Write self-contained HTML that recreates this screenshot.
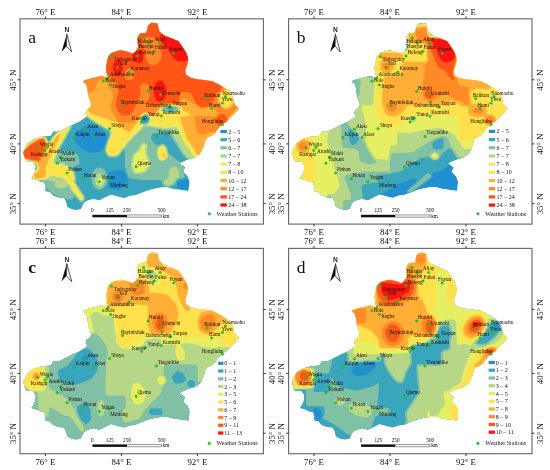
<!DOCTYPE html>
<html lang="en"><head><meta charset="utf-8"><title>Xinjiang interpolation maps</title>
<style>
html,body{margin:0;padding:0;background:#fff;}
body{width:550px;height:470px;overflow:hidden;}
svg{display:block;}
text{font-family:"Liberation Serif","DejaVu Serif",serif;fill:#0d0d0d;}
.ax{font-size:8.8px;}
.pl{font-size:17.5px;fill:#111;}
.nn{font-family:"Liberation Sans","DejaVu Sans",sans-serif;font-size:6.6px;font-weight:bold;fill:#222;}
.sb{font-size:5.2px;fill:#000;}
.lg{font-size:6.05px;fill:#111;}
.st text{font-size:5.1px;fill:#1c0d04;}
</style></head><body>
<svg width="550" height="470" viewBox="0 0 550 470">
<rect width="550" height="470" fill="#fff"/>
<defs>
<clipPath id="clipa"><path d="M107.9,77.8L106.6,72.7L106.0,67.6L106.4,65.5L108.2,56.4L111.8,52.7L120.5,50.2L128.4,51.9L132.8,53.8L135.8,51.2L138.2,47.3L137.3,38.2L140.0,33.6L146.4,32.7L148.2,25.5L151.8,22.7L157.3,23.6L159.1,30.9L162.7,34.5L165.0,36.0L171.0,38.2L178.4,41.2L182.1,46.4L185.9,52.3L188.1,58.3L187.3,64.3L185.1,70.2L185.9,74.7L190.3,77.7L196.3,79.2L203.7,79.9L212.7,81.4L218.6,84.4L224.6,88.1L229.1,91.1L232.0,95.5L233.5,100.0L234.5,104.2L238.8,108.5L235.2,112.9L231.5,116.5L227.2,120.9L222.4,124.3L219.4,126.9L217.2,129.6L215.0,132.9L211.8,135.6L207.4,137.4L205.2,140.5L204.1,144.9L201.9,150.3L199.8,154.1L194.9,157.4L188.9,159.2L182.3,161.8L179.6,163.6L185.0,167.3L183.2,171.8L187.7,176.4L189.5,181.8L188.6,190.9L181.4,190.0L174.1,189.1L167.7,187.3L161.4,187.3L155.9,188.2L148.6,190.0L141.4,192.7L135.6,195.1L129.8,195.8L124.0,198.0L118.2,196.5L110.9,194.4L105.1,197.3L99.3,200.2L93.5,198.7L88.0,200.2L84.7,201.8L82.5,205.1L80.9,208.9L76.0,210.0L71.6,208.9L67.3,206.7L66.2,201.8L64.0,198.0L58.5,197.5L53.1,195.3L49.8,192.0L45.5,190.9L45.5,186.5L44.0,182.1L41.1,182.1L36.6,179.9L31.4,178.4L32.9,176.2L35.1,171.7L35.8,165.7L32.9,161.3L26.2,161.3L24.7,157.5L23.2,152.3L25.4,147.9L27.7,143.4L34.4,138.9L41.8,136.7L50.7,136.0L53.5,131.5L58.6,131.8L65.9,128.2L73.2,124.5L79.2,121.8L84.3,118.6L87.5,116.1L85.5,113.5L86.8,109.7L90.0,107.8L91.3,104.6L89.4,99.5L88.1,94.4L87.5,88.6L86.2,84.2L83.0,81.6L84.9,80.3L90.7,78.4L97.0,77.1L100.9,75.9Z"/></clipPath>
<clipPath id="clipb"><path d="M376.5,77.8L375.2,72.7L374.6,67.6L375.0,65.5L376.8,56.4L380.4,52.7L389.1,50.2L397.0,51.9L401.4,53.8L404.4,51.2L406.8,47.3L405.9,38.2L408.6,33.6L415.0,32.7L416.8,25.5L420.4,22.7L425.9,23.6L427.7,30.9L431.3,34.5L433.6,36.0L439.6,38.2L447.0,41.2L450.7,46.4L454.5,52.3L456.7,58.3L455.9,64.3L453.7,70.2L454.5,74.7L458.9,77.7L464.9,79.2L472.3,79.9L481.3,81.4L487.2,84.4L493.2,88.1L497.7,91.1L500.6,95.5L502.1,100.0L503.1,104.2L507.4,108.5L503.8,112.9L500.1,116.5L495.8,120.9L491.0,124.3L488.0,126.9L485.8,129.6L483.6,132.9L480.4,135.6L476.0,137.4L473.8,140.5L472.7,144.9L470.5,150.3L468.4,154.1L463.5,157.4L457.5,159.2L450.9,161.8L448.2,163.6L453.6,167.3L451.8,171.8L456.3,176.4L458.1,181.8L457.2,190.9L450.0,190.0L442.7,189.1L436.3,187.3L430.0,187.3L424.5,188.2L417.2,190.0L410.0,192.7L404.2,195.1L398.4,195.8L392.6,198.0L386.8,196.5L379.5,194.4L373.7,197.3L367.9,200.2L362.1,198.7L356.6,200.2L353.3,201.8L351.1,205.1L349.5,208.9L344.6,210.0L340.2,208.9L335.9,206.7L334.8,201.8L332.6,198.0L327.1,197.5L321.7,195.3L318.4,192.0L314.1,190.9L314.1,186.5L312.6,182.1L309.7,182.1L305.2,179.9L300.0,178.4L301.5,176.2L303.7,171.7L304.4,165.7L301.5,161.3L294.8,161.3L293.3,157.5L291.8,152.3L294.0,147.9L296.3,143.4L303.0,138.9L310.4,136.7L319.3,136.0L322.1,131.5L327.2,131.8L334.5,128.2L341.8,124.5L347.8,121.8L352.9,118.6L356.1,116.1L354.1,113.5L355.4,109.7L358.6,107.8L359.9,104.6L358.0,99.5L356.7,94.4L356.1,88.6L354.8,84.2L351.6,81.6L353.5,80.3L359.3,78.4L365.6,77.1L369.5,75.9Z"/></clipPath>
<clipPath id="clipc"><path d="M107.9,307.4L106.6,302.3L106.0,297.2L106.4,295.1L108.2,286.0L111.8,282.3L120.5,279.8L128.4,281.5L132.8,283.4L135.8,280.8L138.2,276.9L137.3,267.8L140.0,263.2L146.4,262.3L148.2,255.1L151.8,252.3L157.3,253.2L159.1,260.5L162.7,264.1L165.0,265.6L171.0,267.8L178.4,270.8L182.1,276.0L185.9,281.9L188.1,287.9L187.3,293.9L185.1,299.8L185.9,304.3L190.3,307.3L196.3,308.8L203.7,309.5L212.7,311.0L218.6,314.0L224.6,317.7L229.1,320.7L232.0,325.1L233.5,329.6L234.5,333.8L238.8,338.1L235.2,342.5L231.5,346.1L227.2,350.5L222.4,353.9L219.4,356.5L217.2,359.2L215.0,362.5L211.8,365.2L207.4,367.0L205.2,370.1L204.1,374.5L201.9,379.9L199.8,383.7L194.9,387.0L188.9,388.8L182.3,391.4L179.6,393.2L185.0,396.9L183.2,401.4L187.7,406.0L189.5,411.4L188.6,420.5L181.4,419.6L174.1,418.7L167.7,416.9L161.4,416.9L155.9,417.8L148.6,419.6L141.4,422.3L135.6,424.7L129.8,425.4L124.0,427.6L118.2,426.1L110.9,424.0L105.1,426.9L99.3,429.8L93.5,428.3L88.0,429.8L84.7,431.4L82.5,434.7L80.9,438.5L76.0,439.6L71.6,438.5L67.3,436.3L66.2,431.4L64.0,427.6L58.5,427.1L53.1,424.9L49.8,421.6L45.5,420.5L45.5,416.1L44.0,411.7L41.1,411.7L36.6,409.5L31.4,408.0L32.9,405.8L35.1,401.3L35.8,395.3L32.9,390.9L26.2,390.9L24.7,387.1L23.2,381.9L25.4,377.5L27.7,373.0L34.4,368.5L41.8,366.3L50.7,365.6L53.5,361.1L58.6,361.4L65.9,357.8L73.2,354.1L79.2,351.4L84.3,348.2L87.5,345.7L85.5,343.1L86.8,339.3L90.0,337.4L91.3,334.2L89.4,329.1L88.1,324.0L87.5,318.2L86.2,313.8L83.0,311.2L84.9,309.9L90.7,308.0L97.0,306.7L100.9,305.5Z"/></clipPath>
<clipPath id="clipd"><path d="M376.5,307.4L375.2,302.3L374.6,297.2L375.0,295.1L376.8,286.0L380.4,282.3L389.1,279.8L397.0,281.5L401.4,283.4L404.4,280.8L406.8,276.9L405.9,267.8L408.6,263.2L415.0,262.3L416.8,255.1L420.4,252.3L425.9,253.2L427.7,260.5L431.3,264.1L433.6,265.6L439.6,267.8L447.0,270.8L450.7,276.0L454.5,281.9L456.7,287.9L455.9,293.9L453.7,299.8L454.5,304.3L458.9,307.3L464.9,308.8L472.3,309.5L481.3,311.0L487.2,314.0L493.2,317.7L497.7,320.7L500.6,325.1L502.1,329.6L503.1,333.8L507.4,338.1L503.8,342.5L500.1,346.1L495.8,350.5L491.0,353.9L488.0,356.5L485.8,359.2L483.6,362.5L480.4,365.2L476.0,367.0L473.8,370.1L472.7,374.5L470.5,379.9L468.4,383.7L463.5,387.0L457.5,388.8L450.9,391.4L448.2,393.2L453.6,396.9L451.8,401.4L456.3,406.0L458.1,411.4L457.2,420.5L450.0,419.6L442.7,418.7L436.3,416.9L430.0,416.9L424.5,417.8L417.2,419.6L410.0,422.3L404.2,424.7L398.4,425.4L392.6,427.6L386.8,426.1L379.5,424.0L373.7,426.9L367.9,429.8L362.1,428.3L356.6,429.8L353.3,431.4L351.1,434.7L349.5,438.5L344.6,439.6L340.2,438.5L335.9,436.3L334.8,431.4L332.6,427.6L327.1,427.1L321.7,424.9L318.4,421.6L314.1,420.5L314.1,416.1L312.6,411.7L309.7,411.7L305.2,409.5L300.0,408.0L301.5,405.8L303.7,401.3L304.4,395.3L301.5,390.9L294.8,390.9L293.3,387.1L291.8,381.9L294.0,377.5L296.3,373.0L303.0,368.5L310.4,366.3L319.3,365.6L322.1,361.1L327.2,361.4L334.5,357.8L341.8,354.1L347.8,351.4L352.9,348.2L356.1,345.7L354.1,343.1L355.4,339.3L358.6,337.4L359.9,334.2L358.0,329.1L356.7,324.0L356.1,318.2L354.8,313.8L351.6,311.2L353.5,309.9L359.3,308.0L365.6,306.7L369.5,305.5Z"/></clipPath>
</defs>
<g>
<g clip-path="url(#clipa)">
<path d="M107.9,77.8L106.6,72.7L106.0,67.6L106.4,65.5L108.2,56.4L111.8,52.7L120.5,50.2L128.4,51.9L132.8,53.8L135.8,51.2L138.2,47.3L137.3,38.2L140.0,33.6L146.4,32.7L148.2,25.5L151.8,22.7L157.3,23.6L159.1,30.9L162.7,34.5L165.0,36.0L171.0,38.2L178.4,41.2L182.1,46.4L185.9,52.3L188.1,58.3L187.3,64.3L185.1,70.2L185.9,74.7L190.3,77.7L196.3,79.2L203.7,79.9L212.7,81.4L218.6,84.4L224.6,88.1L229.1,91.1L232.0,95.5L233.5,100.0L234.5,104.2L238.8,108.5L235.2,112.9L231.5,116.5L227.2,120.9L222.4,124.3L219.4,126.9L217.2,129.6L215.0,132.9L211.8,135.6L207.4,137.4L205.2,140.5L204.1,144.9L201.9,150.3L199.8,154.1L194.9,157.4L188.9,159.2L182.3,161.8L179.6,163.6L185.0,167.3L183.2,171.8L187.7,176.4L189.5,181.8L188.6,190.9L181.4,190.0L174.1,189.1L167.7,187.3L161.4,187.3L155.9,188.2L148.6,190.0L141.4,192.7L135.6,195.1L129.8,195.8L124.0,198.0L118.2,196.5L110.9,194.4L105.1,197.3L99.3,200.2L93.5,198.7L88.0,200.2L84.7,201.8L82.5,205.1L80.9,208.9L76.0,210.0L71.6,208.9L67.3,206.7L66.2,201.8L64.0,198.0L58.5,197.5L53.1,195.3L49.8,192.0L45.5,190.9L45.5,186.5L44.0,182.1L41.1,182.1L36.6,179.9L31.4,178.4L32.9,176.2L35.1,171.7L35.8,165.7L32.9,161.3L26.2,161.3L24.7,157.5L23.2,152.3L25.4,147.9L27.7,143.4L34.4,138.9L41.8,136.7L50.7,136.0L53.5,131.5L58.6,131.8L65.9,128.2L73.2,124.5L79.2,121.8L84.3,118.6L87.5,116.1L85.5,113.5L86.8,109.7L90.0,107.8L91.3,104.6L89.4,99.5L88.1,94.4L87.5,88.6L86.2,84.2L83.0,81.6L84.9,80.3L90.7,78.4L97.0,77.1L100.9,75.9Z" fill="#2090d2"/>
<path d="M190.0,192.0L189.2,192.5L190.0,192.5ZM158.8,22.2L150.5,21.5L147.0,24.2L145.0,31.5L138.5,32.5L136.0,37.0L136.8,46.5L134.8,49.8L132.5,51.8L130.2,50.8L122.5,49.0L119.0,49.0L110.5,51.5L106.8,56.0L104.8,65.8L105.2,75.5L103.0,74.8L99.5,74.8L85.0,78.5L81.8,80.2L81.8,83.0L85.2,86.2L86.2,89.8L86.8,96.2L89.5,104.2L88.8,106.5L85.2,109.0L84.2,112.0L84.2,115.0L84.8,115.8L78.5,120.2L58.0,130.2L52.2,130.2L49.5,134.8L40.2,135.5L32.8,138.0L26.2,142.5L22.0,151.0L22.2,155.0L25.0,162.8L31.8,162.8L34.2,166.8L33.8,170.8L30.2,177.2L30.2,180.0L35.5,181.5L39.5,183.5L42.5,183.5L44.2,187.8L44.2,192.5L48.5,193.5L51.8,196.8L57.0,199.0L62.8,199.5L65.0,203.2L66.0,208.2L70.2,210.5L74.2,211.5L78.0,211.5L82.5,210.5L83.5,207.5L86.0,203.5L89.2,201.8L92.8,200.8L97.8,201.8L100.8,201.8L111.2,196.5L122.5,199.5L125.8,199.5L131.0,197.2L137.2,196.5L149.8,191.5L162.5,188.8L166.8,188.8L172.5,190.5L178.0,191.2L177.0,189.0L177.5,181.5L179.5,180.2L186.5,178.8L188.5,179.0L189.2,180.2L190.2,189.8L191.0,180.2L189.2,175.2L185.5,171.2L186.5,169.0L186.5,166.0L183.2,163.8L189.5,161.0L196.0,159.2L201.0,155.8L204.0,150.8L206.5,142.5L208.5,139.5L216.0,135.0L219.8,129.8L224.2,125.5L228.5,122.8L237.2,114.0L240.2,110.0L240.2,107.2L236.0,103.0L233.8,94.8L230.2,89.5L221.5,84.0L214.2,80.2L206.0,78.8L197.5,78.0L192.5,76.8L187.5,73.5L187.0,70.2L188.8,66.0L189.5,56.8L187.2,50.5L180.0,40.0L167.0,35.0L162.2,31.5L160.5,29.8ZM123.2,170.2L125.0,172.8L127.5,179.8L127.8,181.8L127.0,183.2L120.0,189.8L118.2,190.0L109.2,188.2L108.0,186.8L108.5,181.2L108.2,173.2L108.8,172.2L111.2,171.2L121.5,170.0ZM75.0,132.5L84.0,127.0L87.5,125.5L98.8,127.8L100.2,128.5L103.8,132.0L107.0,136.2L106.8,138.8L104.5,146.0L102.5,149.2L99.8,151.8L93.0,152.8L88.2,152.5L80.8,148.0L75.0,141.0L74.2,139.0L74.2,134.2ZM145.2,115.8L147.5,117.2L148.0,119.5L146.5,121.8L144.2,122.0L143.0,121.2L142.8,119.5L143.8,117.0Z" fill="#39a6bd" fill-rule="evenodd"/>
<path d="M98.0,167.5L95.2,169.0L93.5,171.0L91.8,175.5L91.5,180.2L92.5,184.2L94.0,186.8L95.8,188.5L97.8,189.5L100.2,189.8L103.2,188.5L105.8,185.5L106.8,181.8L106.8,176.0L105.8,171.5L103.8,169.0L101.0,167.5ZM27.0,143.0L25.0,145.0L22.0,151.0L22.0,154.0L24.8,161.8L28.2,162.8L31.8,162.8L32.2,163.5L34.5,164.0L35.5,165.2L36.0,168.0L33.8,170.2L30.5,176.8L32.5,180.8L36.8,182.2L42.2,181.5L43.2,182.8L44.5,186.2L50.8,192.5L60.8,197.8L65.8,199.0L72.0,199.5L74.5,196.2L79.8,202.0L82.0,202.2L83.0,201.8L85.2,199.0L85.2,197.0L76.0,182.5L75.8,181.0L76.5,179.2L76.2,176.8L74.5,170.8L73.0,168.0L73.8,166.8L78.0,164.8L79.5,163.2L79.5,160.5L78.0,155.0L76.5,154.0L61.0,150.0L60.2,148.8L71.8,127.8L72.2,126.2L72.0,124.8L70.5,124.0L60.8,128.8L56.2,131.8L53.8,134.2L49.2,140.8L48.2,140.2L47.0,137.5L45.5,135.8L42.2,135.2L35.2,137.8ZM150.5,21.5L147.0,24.2L145.0,31.5L138.5,32.5L136.0,37.0L136.8,46.5L134.8,49.8L132.5,51.8L130.2,50.8L122.5,49.0L119.0,49.0L110.5,51.5L107.0,55.2L104.8,65.8L105.2,75.5L103.0,74.8L99.5,74.8L85.0,78.5L81.8,80.2L81.8,83.0L85.2,86.2L86.2,89.8L86.8,96.2L89.5,104.2L88.8,106.5L85.2,109.0L84.2,112.0L84.2,115.0L89.8,120.0L97.0,124.8L108.2,131.0L109.5,132.2L109.2,135.8L106.5,142.5L104.5,150.2L105.8,153.8L108.5,157.2L109.5,157.8L113.2,157.8L117.5,157.0L119.8,155.2L123.8,150.2L124.8,150.8L125.0,166.8L128.2,176.2L129.5,178.0L132.0,178.8L142.5,180.0L160.0,180.0L161.8,181.2L162.2,184.0L163.8,186.0L166.5,187.2L169.0,187.2L174.8,184.8L175.5,183.8L176.0,181.2L177.2,179.8L184.5,177.2L184.8,176.0L183.8,173.8L183.8,171.0L184.5,168.8L184.2,166.8L179.2,161.5L169.5,154.0L168.5,152.2L167.2,147.5L165.8,145.2L163.2,143.8L161.2,143.8L158.0,145.5L156.0,145.0L153.5,142.5L151.0,138.8L151.5,135.0L152.8,133.8L154.8,133.0L157.8,133.0L165.2,134.2L168.8,132.8L182.2,154.5L187.8,160.2L190.8,160.5L196.0,159.2L201.5,155.2L204.0,150.8L206.5,142.5L208.5,139.5L216.0,135.0L218.5,131.2L222.2,127.2L228.5,122.8L237.2,114.0L240.2,110.0L240.2,107.2L236.0,103.0L233.8,94.8L230.8,90.0L225.8,86.5L214.2,80.2L206.0,78.8L197.5,78.0L191.8,76.5L187.8,73.8L187.0,70.2L188.8,66.0L189.5,56.8L187.2,50.5L180.2,40.2L167.0,35.0L164.5,33.5L160.5,29.8L158.8,22.2ZM145.5,114.8L146.5,115.0L148.2,116.8L149.0,118.2L149.0,119.8L147.0,122.8L144.2,123.2L142.2,122.5L141.5,121.0L143.0,116.5L144.5,115.0ZM174.5,108.2L175.5,107.8L176.2,108.5L175.0,108.8ZM166.5,108.8L167.0,107.8L168.5,107.0L171.5,107.0L174.0,108.2L171.2,111.5L168.8,111.0Z" fill="#80c0a5" fill-rule="evenodd"/>
<path d="M99.0,173.0L97.8,173.5L96.0,175.2L95.0,177.8L94.8,181.2L95.5,184.0L97.0,186.0L98.8,187.0L100.8,187.0L102.2,186.2L103.8,184.5L104.8,181.5L104.8,179.0L103.5,175.2L101.8,173.5ZM176.5,167.2L175.0,166.5L173.0,166.5L171.5,167.2L170.0,169.0L168.5,173.2L168.5,178.0L165.0,179.8L164.0,181.0L164.0,183.5L165.5,185.0L168.8,185.5L171.0,184.5L174.5,181.8L175.2,179.8L179.0,177.0L179.5,175.5L179.2,172.0L178.0,169.0ZM162.0,144.8L160.5,145.2L157.8,147.5L156.5,151.2L156.5,154.0L158.2,159.2L160.5,161.2L163.2,161.5L165.5,160.2L167.5,158.0L168.0,154.2L166.0,147.5L164.0,145.2ZM144.5,142.8L142.5,142.8L141.2,143.5L138.0,150.0L133.0,154.5L132.0,156.5L130.8,165.8L133.2,172.5L135.2,174.2L142.5,173.5L145.0,172.5L149.2,168.2L150.8,165.5L150.0,161.0L146.8,153.0L147.5,145.0L146.2,143.5ZM23.8,147.5L22.0,151.0L22.0,154.0L24.0,160.5L30.8,162.5L34.8,163.0L36.0,164.0L36.8,165.8L36.8,169.0L33.0,172.0L31.2,175.8L32.0,178.0L34.2,181.0L37.0,181.2L41.0,180.2L48.5,179.8L51.2,181.0L54.0,181.2L55.0,182.0L54.8,185.2L56.5,187.5L60.0,188.8L64.0,188.2L67.0,186.0L68.2,185.8L73.0,192.8L75.8,195.2L80.0,200.8L82.0,201.0L83.8,199.5L84.2,197.8L83.2,195.5L74.5,182.0L75.2,177.2L73.8,171.8L72.5,169.5L68.2,166.0L63.5,163.2L62.0,162.8L55.8,163.0L54.8,162.0L59.2,147.8L68.5,131.8L70.8,127.0L70.5,125.5L69.0,125.2L64.0,127.2L60.0,130.8L56.5,132.8L52.2,138.0L49.5,142.8L48.2,142.2L45.2,136.8L44.2,136.2L41.8,136.2L37.0,137.8L29.8,142.0ZM58.0,179.5L58.8,178.8L60.5,179.2L60.5,179.8L59.5,180.2ZM150.5,21.5L147.0,24.2L145.0,31.5L138.5,32.5L136.0,37.0L136.8,46.5L134.8,49.8L132.5,51.8L130.2,50.8L122.5,49.0L119.0,49.0L110.5,51.5L107.0,55.2L104.8,65.8L105.2,75.5L103.0,74.8L99.5,74.8L85.0,78.5L81.8,80.2L81.8,83.0L85.2,86.2L86.2,89.8L86.8,96.2L89.5,104.2L88.8,106.5L85.5,108.5L84.2,113.2L86.5,116.0L91.2,119.8L110.5,131.5L110.8,134.2L107.5,142.0L105.8,148.5L106.0,152.0L108.0,155.2L109.5,156.5L115.0,156.5L118.2,155.2L122.5,149.5L126.0,146.5L128.0,142.8L130.0,141.5L135.2,135.5L144.8,126.5L146.8,126.5L164.0,129.2L170.8,128.8L171.8,129.8L171.5,133.2L183.5,153.2L189.0,158.8L193.2,158.5L196.0,159.2L201.5,155.2L204.0,150.8L206.5,142.5L208.5,139.5L216.0,135.0L218.5,131.2L222.2,127.2L228.5,122.8L237.2,114.0L240.2,110.0L240.2,107.2L236.0,103.0L233.8,94.8L230.8,90.0L225.8,86.5L214.2,80.2L206.0,78.8L197.5,78.0L191.8,76.5L187.8,73.8L187.0,70.2L188.8,66.0L189.5,56.8L187.2,50.5L180.2,40.2L167.0,35.0L164.5,33.5L160.5,29.8L158.8,22.2ZM145.0,114.2L146.8,114.5L148.2,115.8L149.5,117.8L149.8,119.8L149.0,121.8L147.2,123.5L144.2,124.2L141.0,123.2L140.5,122.0L142.5,116.2L143.5,115.0ZM161.8,109.5L163.2,107.5L168.5,106.0L176.0,106.5L177.8,107.5L179.0,109.0L178.0,110.0L174.0,110.8L172.0,112.8L169.5,112.8L166.2,110.8L163.0,110.5Z" fill="#b6d787" fill-rule="evenodd"/>
<path d="M99.2,178.2L97.8,179.5L97.2,182.0L98.5,184.2L100.5,184.8L101.8,184.0L102.5,182.8L102.5,180.0L101.2,178.5ZM161.5,145.8L159.0,147.8L158.2,149.2L157.8,154.0L159.2,158.5L160.5,159.8L162.8,160.2L164.5,159.5L166.5,157.5L167.0,156.5L167.0,153.5L165.8,149.0L164.5,146.8L163.0,145.8ZM144.0,144.5L142.2,145.2L139.2,151.2L135.5,154.5L133.8,156.8L132.5,166.0L134.8,171.5L136.0,172.5L141.0,172.0L144.0,171.0L148.8,165.8L148.2,161.2L145.0,153.5L145.8,145.8ZM23.0,149.0L22.0,151.0L22.0,154.0L23.8,159.8L31.0,162.0L35.0,162.5L37.0,164.5L37.8,167.0L37.5,169.2L33.5,172.5L31.8,174.8L32.2,177.0L34.5,180.2L37.2,180.5L46.0,179.0L47.5,178.2L49.5,176.0L54.5,176.0L61.2,177.5L63.8,178.8L69.8,185.0L74.0,192.0L80.5,200.0L82.0,200.0L83.0,199.0L83.2,197.5L73.8,182.5L73.5,180.2L74.2,179.0L74.2,176.8L72.0,170.2L66.8,166.5L62.5,164.2L54.8,164.2L53.5,163.0L53.5,161.0L58.0,148.5L69.5,127.8L69.2,126.5L67.2,126.8L64.0,128.2L61.0,131.0L57.0,133.2L53.2,137.8L49.2,144.8L48.5,144.5L45.8,138.2L44.0,136.8L42.2,136.8L37.2,138.2L30.0,142.5ZM150.5,21.5L147.0,24.2L145.0,31.5L138.5,32.5L136.0,37.0L136.8,46.5L134.8,49.8L132.5,51.8L130.2,50.8L122.5,49.0L119.0,49.0L110.5,51.5L107.0,55.2L104.8,65.8L105.2,75.5L103.0,74.8L99.5,74.8L85.0,78.5L81.8,80.2L81.8,83.0L85.2,86.2L86.2,89.8L86.8,96.2L89.5,104.2L88.8,106.5L85.5,108.5L84.8,110.5L85.0,113.0L87.5,115.8L92.0,119.2L111.2,131.0L111.8,132.0L111.2,135.5L108.2,142.0L106.5,148.8L106.8,151.5L108.5,154.5L110.0,155.8L114.2,155.8L117.5,154.8L122.0,148.8L125.2,145.5L126.8,142.2L129.5,140.2L134.0,135.0L142.0,127.8L142.8,125.0L142.0,124.5L139.2,125.0L138.8,124.0L142.0,116.0L143.8,114.2L146.2,113.8L149.2,116.2L150.5,118.5L150.2,121.0L147.5,124.8L148.0,125.2L163.2,127.8L176.5,127.2L178.0,129.2L183.2,141.5L189.2,148.8L193.2,156.0L194.8,157.5L197.5,158.2L201.0,155.8L203.0,152.8L205.5,146.8L206.5,142.5L208.5,139.5L216.0,135.0L218.5,131.2L222.2,127.2L228.5,122.8L237.2,114.0L240.2,110.0L240.2,107.2L236.0,103.0L233.8,94.8L230.8,90.0L225.8,86.5L214.2,80.2L206.0,78.8L197.5,78.0L191.8,76.5L187.8,73.8L187.0,70.2L188.8,66.0L189.5,56.8L187.2,50.5L180.2,40.2L167.0,35.0L164.5,33.5L160.5,29.8L158.8,22.2ZM160.8,110.5L160.8,109.2L162.5,107.2L165.2,106.0L168.0,105.5L175.5,105.8L178.2,107.0L180.2,109.0L179.5,110.5L175.2,111.2L172.8,113.8L169.5,113.8L166.0,111.8L162.8,111.5Z" fill="#e6ee62" fill-rule="evenodd"/>
<path d="M135.8,165.5L135.0,166.2L135.0,167.2L136.5,168.2L137.5,167.5L137.8,166.5L137.0,165.5ZM161.5,147.0L160.2,148.0L159.5,149.5L159.0,153.8L160.2,157.8L162.8,159.0L165.8,157.2L166.2,156.2L166.2,153.8L164.0,148.0L163.0,147.0ZM22.2,150.5L22.0,154.0L23.5,159.2L31.0,161.5L35.8,162.2L37.8,164.5L38.5,167.2L38.0,169.8L32.5,174.8L32.5,175.8L34.8,179.5L37.5,179.8L46.0,178.0L47.5,175.5L49.0,174.2L54.8,174.2L63.5,177.0L70.5,183.8L74.5,190.5L79.5,197.2L81.0,198.8L81.8,198.5L81.8,196.8L72.5,182.5L72.2,180.0L73.2,177.5L71.5,171.5L68.8,169.2L62.2,165.5L54.2,165.5L52.5,164.2L52.0,163.0L52.2,160.8L54.8,153.0L58.5,145.0L65.0,134.2L67.5,129.2L67.5,128.2L64.5,129.2L62.8,131.0L58.2,133.2L55.8,135.5L52.8,139.8L49.2,147.2L48.0,148.8L47.5,148.2L47.5,143.2L45.5,138.8L43.8,137.2L42.0,137.2L38.5,138.2L29.8,143.2ZM150.5,21.5L147.0,24.2L145.0,31.5L138.5,32.5L136.0,37.0L136.8,46.5L134.8,49.8L132.5,51.8L130.2,50.8L122.5,49.0L119.0,49.0L110.5,51.5L107.0,55.2L104.8,65.8L105.2,75.5L103.0,74.8L99.5,74.8L85.0,78.5L81.8,80.2L81.8,83.0L85.2,86.2L86.2,89.8L86.8,96.2L89.5,104.2L88.8,106.5L85.2,109.0L86.0,112.5L91.8,117.8L100.2,123.2L109.5,128.2L112.5,130.8L112.8,134.0L112.2,136.0L109.0,143.0L107.5,149.5L107.8,151.0L110.0,154.5L113.2,154.8L117.0,153.8L124.2,144.8L126.0,141.0L129.0,139.0L131.8,135.5L140.5,127.2L140.8,126.5L140.0,126.5L138.0,127.5L136.8,127.5L136.2,126.8L136.5,125.8L139.0,122.0L141.8,115.5L144.0,113.5L146.2,113.2L147.8,114.0L151.8,118.5L152.2,120.0L151.2,122.8L151.5,123.8L163.8,125.8L166.8,125.8L174.0,124.5L177.2,125.2L179.5,128.2L183.8,139.0L190.2,147.2L195.0,155.8L196.8,157.0L199.0,157.2L201.5,155.2L203.0,152.8L205.5,146.8L206.5,142.5L208.5,139.5L216.0,135.0L218.5,131.2L222.2,127.2L228.5,122.8L237.2,114.0L240.2,110.0L240.2,107.2L236.0,103.0L233.8,94.8L230.8,90.0L225.8,86.5L214.2,80.2L206.0,78.8L197.5,78.0L191.8,76.5L187.8,73.8L187.0,70.2L188.8,66.0L189.5,56.8L187.2,50.5L180.2,40.2L167.0,35.0L164.5,33.5L160.5,29.8L158.8,22.2ZM159.5,111.2L160.2,108.8L162.2,106.8L165.0,105.5L167.8,105.0L175.8,105.2L179.8,107.2L181.5,109.2L181.5,110.5L180.5,111.5L175.8,112.5L175.0,114.0L173.0,115.8L169.0,115.5L165.0,113.5L160.8,113.0Z" fill="#ffe14c" fill-rule="evenodd"/>
<path d="M164.5,153.5L164.0,153.5L163.0,155.0L163.5,156.8L164.5,156.8L165.2,156.0L165.2,154.2ZM59.5,134.2L58.0,134.8L54.2,139.2L48.8,151.0L46.5,153.2L45.8,153.0L47.0,143.5L44.8,138.5L43.8,137.8L38.5,138.8L31.0,143.0L22.0,151.5L22.0,154.0L23.5,158.8L31.0,161.0L35.2,161.5L36.8,162.2L38.8,164.5L39.5,169.0L38.8,170.5L33.8,174.8L34.0,176.8L35.2,178.5L37.5,178.8L44.0,177.5L45.5,176.8L45.5,170.5L46.2,165.5L49.0,158.2L58.2,139.5L59.8,135.5ZM150.5,21.5L147.0,24.2L145.0,31.5L138.5,32.5L136.0,37.0L136.8,46.5L134.8,49.8L132.5,51.8L130.2,50.8L122.5,49.0L119.0,49.0L110.5,51.5L107.0,55.2L104.8,65.8L105.2,75.5L103.0,74.8L99.5,74.8L85.0,78.5L81.8,80.2L81.8,83.0L85.2,86.2L86.2,89.8L86.8,96.2L89.5,104.2L88.8,106.5L86.5,108.2L91.0,113.5L93.0,114.5L102.0,117.2L111.0,120.8L116.0,121.8L123.8,129.8L128.8,132.2L130.2,131.5L138.8,120.8L141.2,115.2L143.2,113.2L144.5,112.8L147.2,113.0L150.8,116.2L152.5,116.5L158.0,111.5L161.0,107.0L164.0,105.2L167.8,104.5L175.8,104.8L181.0,107.0L184.2,111.0L188.8,113.2L189.8,114.2L189.8,115.5L188.5,116.2L181.0,116.5L180.2,117.5L180.5,119.2L187.2,139.0L193.2,147.2L196.2,154.0L197.5,155.2L201.0,155.8L204.0,150.8L206.5,142.5L208.5,139.5L216.0,135.0L218.5,131.2L222.2,127.2L228.5,122.8L237.2,114.0L240.2,110.0L240.2,107.2L236.0,103.0L233.8,94.8L230.8,90.0L225.8,86.5L214.2,80.2L206.0,78.8L197.5,78.0L191.8,76.5L187.8,73.8L187.0,70.2L188.8,66.0L189.5,56.8L187.2,50.5L180.2,40.2L167.0,35.0L164.5,33.5L160.5,29.8L158.8,22.2ZM225.2,90.2L228.2,90.5L230.2,91.8L231.8,93.5L233.2,97.2L233.2,100.8L231.8,104.5L229.2,107.0L227.2,107.8L225.2,107.8L222.2,106.2L220.8,104.5L219.2,100.8L219.2,97.2L220.2,94.5L223.2,91.2Z" fill="#ffae36" fill-rule="evenodd"/>
<path d="M44.5,139.2L43.0,138.2L38.8,139.2L29.5,144.8L22.0,152.2L22.0,154.0L23.2,158.2L31.2,160.5L34.5,160.8L37.8,162.0L39.2,162.0L41.8,158.5L42.2,156.2L44.8,152.0L45.8,148.8L46.5,144.0ZM81.8,80.2L81.8,83.0L85.2,86.2L86.2,89.8L86.8,95.0L88.2,93.0L94.2,90.2L95.2,89.2L97.5,81.8L98.8,80.2L100.0,79.8L105.5,79.8L107.2,80.8L108.5,86.2L113.2,93.5L112.8,98.8L110.5,105.2L110.5,107.8L116.5,119.2L119.2,122.2L120.8,122.8L131.8,122.8L133.5,122.2L137.8,119.5L140.8,114.5L142.5,112.8L144.8,111.8L147.8,112.2L151.0,115.0L152.0,115.0L157.0,110.5L159.8,107.0L164.5,104.5L167.2,104.0L174.8,104.0L179.8,105.0L180.8,104.0L181.2,99.5L183.0,98.8L192.5,103.0L200.8,108.8L206.2,108.5L210.8,106.2L212.0,106.2L217.2,112.2L217.2,114.5L214.2,116.2L196.2,116.2L194.8,117.0L194.5,118.8L195.8,124.5L195.8,128.2L197.5,132.0L199.8,134.2L204.8,134.5L209.8,131.8L216.0,132.5L218.5,131.5L222.2,127.2L228.5,122.5L228.5,117.0L231.2,114.8L237.0,107.0L237.0,104.0L236.0,103.0L235.2,99.5L235.0,101.5L233.2,105.5L230.5,108.2L227.5,109.5L225.0,109.5L222.0,108.2L219.2,105.5L217.5,101.0L217.5,97.0L219.0,93.5L224.5,88.8L227.5,88.5L230.2,89.5L221.5,84.0L214.2,80.2L206.0,78.8L197.5,78.0L192.5,76.8L187.5,73.5L187.0,70.2L188.8,66.0L189.5,56.8L187.2,50.5L180.0,40.0L167.0,35.0L162.2,31.5L160.5,29.8L158.8,22.2L150.5,21.5L147.0,24.2L145.0,31.5L138.5,32.5L136.0,37.0L136.8,46.5L134.8,49.8L132.5,51.8L130.2,50.8L122.5,49.0L119.0,49.0L111.0,51.2L108.8,53.2L106.8,56.0L104.8,65.8L105.2,75.5L101.5,74.8L99.8,75.8L95.2,75.8L85.0,78.5Z" fill="#ff8a26" fill-rule="evenodd"/>
<path d="M43.8,139.8L42.0,139.2L39.2,140.0L30.2,145.2L22.5,153.0L22.0,154.0L22.8,156.8L30.8,159.5L38.2,160.5L39.8,158.8L44.5,149.5L45.5,143.5ZM220.8,114.2L216.0,118.2L215.8,121.8L217.0,124.2L218.5,125.5L220.2,126.2L223.0,126.2L225.8,124.2L226.8,122.2L227.0,119.2L226.0,116.2L225.0,115.0L223.2,114.2ZM107.0,55.2L104.8,65.8L105.2,74.2L108.2,75.2L115.8,83.0L117.2,85.5L118.8,89.8L118.8,92.2L116.5,98.5L116.0,105.0L117.5,111.2L122.0,115.5L127.2,115.8L128.8,115.2L133.0,111.5L135.8,104.8L140.2,95.8L140.2,86.0L140.8,84.8L143.0,83.0L145.5,83.0L148.2,85.2L149.5,87.8L150.0,90.5L149.5,98.2L149.0,99.5L146.5,101.2L146.0,102.2L147.5,104.0L150.0,105.0L160.0,105.0L168.2,103.0L178.2,103.8L179.0,103.0L179.2,98.5L180.5,93.0L182.2,92.0L188.2,92.0L190.0,92.8L191.8,94.8L195.0,102.0L196.8,103.8L201.2,107.0L206.0,106.8L208.0,106.0L211.5,103.0L213.8,99.8L215.8,93.2L219.5,91.2L221.2,89.5L222.0,87.8L222.0,84.5L214.2,80.2L212.0,79.8L198.2,79.8L196.8,77.8L191.8,76.5L187.5,73.5L187.0,70.2L188.8,66.0L189.5,56.8L187.2,50.5L180.0,40.0L167.0,35.0L162.2,31.5L160.5,29.8L158.8,22.2L149.8,22.0L147.0,24.2L145.0,31.5L138.5,32.5L136.0,37.0L136.8,46.5L134.8,49.8L132.5,51.8L130.2,50.8L122.5,49.0L119.0,49.0L110.5,51.5ZM129.5,68.2L131.5,68.5L133.2,70.2L134.5,72.8L134.5,75.2L134.0,77.2L132.8,79.0L130.2,80.5L128.5,80.5L125.8,78.5L124.8,76.2L124.5,73.5L125.8,70.0L127.2,68.8ZM143.5,37.8L152.0,36.8L156.0,38.5L158.2,41.5L159.2,47.2L161.8,53.2L161.5,58.2L160.2,61.5L155.2,65.2L153.8,65.5L149.2,64.2L146.2,59.8L145.8,58.2L145.8,51.5L142.8,46.5L142.0,43.2L141.8,39.8Z" fill="#ff5517" fill-rule="evenodd"/>
<path d="M159.2,80.2L156.2,82.5L155.0,85.0L154.0,89.2L154.0,93.2L154.5,96.0L156.2,100.0L157.8,101.5L160.5,102.2L162.2,101.5L164.5,98.8L166.0,93.2L166.0,89.2L165.5,86.5L163.8,82.5L161.5,80.5ZM117.0,60.2L114.2,62.2L113.0,65.2L112.8,68.8L114.2,73.2L116.2,75.0L118.5,75.2L120.0,74.5L121.5,72.8L122.5,70.2L122.8,66.8L121.0,62.0L118.5,60.2ZM137.5,50.0L132.5,54.2L132.2,56.8L133.5,59.5L135.2,61.5L137.2,63.0L139.8,63.2L142.0,62.0L143.0,60.5L143.2,54.0L140.0,50.5ZM162.8,31.8L160.0,36.2L159.8,39.0L163.2,44.8L168.0,49.2L172.0,56.0L176.2,60.2L179.2,61.5L184.5,61.5L189.0,60.0L189.5,59.5L189.5,56.8L187.8,51.5L180.2,40.2L167.0,35.0Z" fill="#ff1212" fill-rule="evenodd"/>
</g>
<rect x="20.0" y="18.8" width="243.4" height="205.3" fill="none" stroke="#6a6a6a" stroke-width="1.15"/>
<path d="M45.4,16.5V18.8M45.4,224.1V226.4M121.4,16.5V18.8M121.4,224.1V226.4M197.4,16.5V18.8M197.4,224.1V226.4M17.7,79.8H20.0M263.4,79.8H265.7M17.7,143.9H20.0M263.4,143.9H265.7M17.7,203.6H20.0M263.4,203.6H265.7" stroke="#333" stroke-width="1" fill="none"/>
<text class="ax" x="45.4" y="14.7" text-anchor="middle">76° E</text>
<text class="ax" x="45.4" y="235.2" text-anchor="middle">76° E</text>
<text class="ax" x="121.4" y="14.7" text-anchor="middle">84° E</text>
<text class="ax" x="121.4" y="235.2" text-anchor="middle">84° E</text>
<text class="ax" x="197.4" y="14.7" text-anchor="middle">92° E</text>
<text class="ax" x="197.4" y="235.2" text-anchor="middle">92° E</text>
<text class="ax" transform="translate(16.3,80.2) rotate(-90)" text-anchor="middle">45° N</text>
<text class="ax" transform="translate(274.6,80.2) rotate(-90)" text-anchor="middle">45° N</text>
<text class="ax" transform="translate(16.3,144.1) rotate(-90)" text-anchor="middle">40° N</text>
<text class="ax" transform="translate(274.6,144.1) rotate(-90)" text-anchor="middle">40° N</text>
<text class="ax" transform="translate(16.3,203.9) rotate(-90)" text-anchor="middle">35° N</text>
<text class="ax" transform="translate(274.6,203.9) rotate(-90)" text-anchor="middle">35° N</text>
<text class="pl" x="28.2" y="43.1">a</text>
<text class="nn" x="66.8" y="32.2" text-anchor="middle">N</text>
<path d="M66.8,34.0L61.5,52.0L66.5,46.2Z" fill="#111"/>
<path d="M66.8,34.0L71.7,52.0L66.5,46.2Z" fill="#fff" stroke="#111" stroke-width="0.7" stroke-linejoin="miter"/>
<rect x="92.4" y="214.80" width="34.6" height="2.5" fill="#111"/>
<path d="M127.0,214.95H161.5V217.15H127.0" fill="#fff" stroke="#111" stroke-width="0.45"/>
<text class="sb" x="92.4" y="212.3" text-anchor="middle">0</text>
<text class="sb" x="109.7" y="212.3" text-anchor="middle">125</text>
<text class="sb" x="127.0" y="212.3" text-anchor="middle">250</text>
<text class="sb" x="161.6" y="212.3" text-anchor="middle">500</text>
<text class="sb" x="162.6" y="217.6">km</text>
<rect x="220.4" y="129.9" width="6.5" height="3.2" fill="#2090d2"/>
<text class="lg" x="228.3" y="133.5">2 – 5</text>
<rect x="220.4" y="138.1" width="6.5" height="3.2" fill="#39a6bd"/>
<text class="lg" x="228.3" y="141.7">5 – 6</text>
<rect x="220.4" y="146.2" width="6.5" height="3.2" fill="#80c0a5"/>
<text class="lg" x="228.3" y="149.8">6 – 7</text>
<rect x="220.4" y="154.4" width="6.5" height="3.2" fill="#b6d787"/>
<text class="lg" x="228.3" y="158.0">7 – 7</text>
<rect x="220.4" y="162.6" width="6.5" height="3.2" fill="#e6ee62"/>
<text class="lg" x="228.3" y="166.2">7 – 8</text>
<rect x="220.4" y="170.8" width="6.5" height="3.2" fill="#ffe14c"/>
<text class="lg" x="228.3" y="174.3">8 – 10</text>
<rect x="220.4" y="178.9" width="6.5" height="3.2" fill="#ffae36"/>
<text class="lg" x="228.3" y="182.5">10 – 12</text>
<rect x="220.4" y="187.1" width="6.5" height="3.2" fill="#ff8a26"/>
<text class="lg" x="228.3" y="190.7">12 – 17</text>
<rect x="220.4" y="195.3" width="6.5" height="3.2" fill="#ff5517"/>
<text class="lg" x="228.3" y="198.9">17 – 24</text>
<rect x="220.4" y="203.4" width="6.5" height="3.2" fill="#ff1212"/>
<text class="lg" x="228.3" y="207.0">24 – 38</text>
<circle cx="209.3" cy="213.8" r="1.3" fill="#10d010" stroke="#2a9a2a" stroke-width="0.4"/>
<text class="lg" x="216.6" y="215.8">Weather Stations</text>
<g fill="#12d812" stroke="#25a025" stroke-width="0.4"><circle cx="143.5" cy="38.0" r="1.25"/><circle cx="160.1" cy="42.9" r="1.25"/><circle cx="148.6" cy="42.9" r="1.25"/><circle cx="154.4" cy="51.4" r="1.25"/><circle cx="137.4" cy="56.0" r="1.25"/><circle cx="173.6" cy="53.4" r="1.25"/><circle cx="111.6" cy="56.7" r="1.25"/><circle cx="117.6" cy="67.5" r="1.25"/><circle cx="129.2" cy="72.3" r="1.25"/><circle cx="108.2" cy="77.7" r="1.25"/><circle cx="103.2" cy="81.1" r="1.25"/><circle cx="110.7" cy="84.9" r="1.25"/><circle cx="148.1" cy="91.3" r="1.25"/><circle cx="160.5" cy="94.6" r="1.25"/><circle cx="122.6" cy="105.8" r="1.25"/><circle cx="162.0" cy="101.9" r="1.25"/><circle cx="170.6" cy="107.0" r="1.25"/><circle cx="161.3" cy="116.0" r="1.25"/><circle cx="145.4" cy="117.9" r="1.25"/><circle cx="141.5" cy="121.9" r="1.25"/><circle cx="207.1" cy="98.4" r="1.25"/><circle cx="225.4" cy="96.5" r="1.25"/><circle cx="222.5" cy="103.0" r="1.25"/><circle cx="211.5" cy="108.5" r="1.25"/><circle cx="222.4" cy="124.5" r="1.25"/><circle cx="156.3" cy="136.4" r="1.25"/><circle cx="85.8" cy="129.3" r="1.25"/><circle cx="109.5" cy="128.8" r="1.25"/><circle cx="74.3" cy="137.6" r="1.25"/><circle cx="93.5" cy="137.6" r="1.25"/><circle cx="37.5" cy="147.8" r="1.25"/><circle cx="47.3" cy="147.5" r="1.25"/><circle cx="45.1" cy="150.4" r="1.25"/><circle cx="60.9" cy="156.9" r="1.25"/><circle cx="57.3" cy="163.2" r="1.25"/><circle cx="67.1" cy="173.1" r="1.25"/><circle cx="82.7" cy="178.7" r="1.25"/><circle cx="99.3" cy="181.8" r="1.25"/><circle cx="109.0" cy="179.5" r="1.25"/><circle cx="136.1" cy="166.7" r="1.25"/></g>
<g class="st">
<text x="137.8" y="43.3">Habahe</text>
<text x="154.4" y="40.6">Altay</text>
<text x="138.4" y="48.4">Buerjin</text>
<text x="155.0" y="49.0">Fuhai</text>
<text x="139.0" y="53.9">Hefeng</text>
<text x="169.5" y="51.1">Fuyun</text>
<text x="113.9" y="61.2">Tarbagatay</text>
<text x="119.3" y="65.0">Toli</text>
<text x="130.8" y="70.1">Karamay</text>
<text x="110.0" y="75.9">Alashankou</text>
<text x="105.2" y="81.9">Bole</text>
<text x="112.5" y="88.3">Jinghe</text>
<text x="149.1" y="89.5">Hutubi</text>
<text x="162.3" y="95.3">Urumchi</text>
<text x="120.9" y="104.0">Bayinbuluk</text>
<text x="145.6" y="107.2">Dabancheng</text>
<text x="172.5" y="105.1">Turpan</text>
<text x="162.7" y="114.2">Kumishi</text>
<text x="147.7" y="116.0">Yanqi</text>
<text x="132.0" y="120.0">Kuerle</text>
<text x="204.2" y="96.7">Balikun</text>
<text x="222.5" y="94.5">Naomaohu</text>
<text x="221.4" y="101.2">Yiwu</text>
<text x="209.0" y="106.7">Hami</text>
<text x="201.7" y="122.9">Hongliuhe</text>
<text x="157.7" y="134.4">Tieganlike</text>
<text x="87.5" y="127.5">Aksu</text>
<text x="111.3" y="126.9">Shaya</text>
<text x="75.8" y="135.7">Kalpin</text>
<text x="94.5" y="135.7">Alaer</text>
<text x="39.7" y="145.9">Wuqia</text>
<text x="48.5" y="152.9">Atushi</text>
<text x="30.7" y="155.7">Kashgar</text>
<text x="62.3" y="155.0">Makit</text>
<text x="59.4" y="161.2">Yarkant</text>
<text x="68.3" y="171.0">Pishan</text>
<text x="83.9" y="176.6">Hotan</text>
<text x="101.2" y="179.3">Yutian</text>
<text x="110.2" y="186.6">Minfeng</text>
<text x="137.4" y="164.8">Qiemo</text>
</g>
</g>
<g>
<g clip-path="url(#clipb)">
<path d="M376.5,77.8L375.2,72.7L374.6,67.6L375.0,65.5L376.8,56.4L380.4,52.7L389.1,50.2L397.0,51.9L401.4,53.8L404.4,51.2L406.8,47.3L405.9,38.2L408.6,33.6L415.0,32.7L416.8,25.5L420.4,22.7L425.9,23.6L427.7,30.9L431.3,34.5L433.6,36.0L439.6,38.2L447.0,41.2L450.7,46.4L454.5,52.3L456.7,58.3L455.9,64.3L453.7,70.2L454.5,74.7L458.9,77.7L464.9,79.2L472.3,79.9L481.3,81.4L487.2,84.4L493.2,88.1L497.7,91.1L500.6,95.5L502.1,100.0L503.1,104.2L507.4,108.5L503.8,112.9L500.1,116.5L495.8,120.9L491.0,124.3L488.0,126.9L485.8,129.6L483.6,132.9L480.4,135.6L476.0,137.4L473.8,140.5L472.7,144.9L470.5,150.3L468.4,154.1L463.5,157.4L457.5,159.2L450.9,161.8L448.2,163.6L453.6,167.3L451.8,171.8L456.3,176.4L458.1,181.8L457.2,190.9L450.0,190.0L442.7,189.1L436.3,187.3L430.0,187.3L424.5,188.2L417.2,190.0L410.0,192.7L404.2,195.1L398.4,195.8L392.6,198.0L386.8,196.5L379.5,194.4L373.7,197.3L367.9,200.2L362.1,198.7L356.6,200.2L353.3,201.8L351.1,205.1L349.5,208.9L344.6,210.0L340.2,208.9L335.9,206.7L334.8,201.8L332.6,198.0L327.1,197.5L321.7,195.3L318.4,192.0L314.1,190.9L314.1,186.5L312.6,182.1L309.7,182.1L305.2,179.9L300.0,178.4L301.5,176.2L303.7,171.7L304.4,165.7L301.5,161.3L294.8,161.3L293.3,157.5L291.8,152.3L294.0,147.9L296.3,143.4L303.0,138.9L310.4,136.7L319.3,136.0L322.1,131.5L327.2,131.8L334.5,128.2L341.8,124.5L347.8,121.8L352.9,118.6L356.1,116.1L354.1,113.5L355.4,109.7L358.6,107.8L359.9,104.6L358.0,99.5L356.7,94.4L356.1,88.6L354.8,84.2L351.6,81.6L353.5,80.3L359.3,78.4L365.6,77.1L369.5,75.9Z" fill="#2090d2"/>
<path d="M458.1,175.8L458.1,192.5L458.6,192.5L459.6,180.2ZM427.4,22.2L419.1,21.5L415.6,24.2L413.6,31.5L407.1,32.5L404.6,37.0L405.4,46.5L403.4,49.8L401.1,51.8L398.9,50.8L391.1,49.0L387.6,49.0L379.1,51.5L375.4,56.0L373.4,65.8L373.9,75.5L371.6,74.8L368.1,74.8L353.6,78.5L350.4,80.2L350.4,83.0L353.9,86.2L354.9,89.8L355.4,96.2L358.1,104.2L357.4,106.5L353.9,109.0L352.9,112.0L352.9,115.0L353.4,115.8L347.1,120.2L326.6,130.2L320.9,130.2L318.1,134.8L308.9,135.5L301.4,138.0L294.9,142.5L290.6,151.0L290.9,155.0L293.6,162.8L300.4,162.8L302.9,166.8L302.4,170.8L298.9,177.2L298.9,180.0L304.1,181.5L308.1,183.5L311.1,183.5L312.9,187.8L312.9,192.5L317.1,193.5L320.4,196.8L325.6,199.0L331.4,199.5L333.6,203.2L334.6,208.2L338.9,210.5L342.9,211.5L346.6,211.5L351.1,210.5L352.9,206.0L354.9,203.2L361.4,200.8L366.4,201.8L369.4,201.8L372.9,200.0L373.4,198.0L374.4,197.2L382.4,193.8L396.6,185.0L413.4,178.5L415.1,178.8L416.4,179.8L416.1,181.5L407.9,188.2L405.6,191.0L405.9,192.2L406.9,193.0L408.6,193.5L411.6,193.2L430.9,179.0L432.6,177.0L432.4,173.8L433.4,172.5L441.1,170.8L449.9,164.5L451.6,164.8L453.6,167.0L454.9,169.5L455.1,166.0L451.9,163.8L458.1,161.0L464.6,159.2L469.6,155.8L472.6,150.8L475.1,142.5L477.1,139.5L484.6,135.0L488.4,129.8L492.9,125.5L497.1,122.8L505.9,114.0L508.9,110.0L508.9,107.2L504.6,103.0L502.4,94.8L498.9,89.5L490.1,84.0L482.9,80.2L474.6,78.8L466.1,78.0L461.1,76.8L456.1,73.5L455.6,70.2L457.4,66.0L458.1,56.8L455.9,50.5L448.6,40.0L435.6,35.0L430.9,31.5L429.1,29.8Z" fill="#39a6bd" fill-rule="evenodd"/>
<path d="M430.1,173.8L427.9,173.2L426.1,174.2L420.9,178.5L416.6,183.2L408.1,190.2L407.9,191.2L409.1,192.0L411.4,191.8L429.1,178.5L431.1,176.2ZM427.4,22.2L419.1,21.5L415.6,24.2L413.6,31.5L407.1,32.5L404.6,37.0L405.4,46.5L403.4,49.8L401.1,51.8L398.9,50.8L391.1,49.0L387.6,49.0L379.1,51.5L375.4,56.0L373.4,65.8L373.9,75.5L371.6,74.8L368.1,74.8L353.6,78.5L350.4,80.2L350.4,83.0L353.9,86.2L354.9,89.8L355.4,96.2L358.1,104.2L357.4,106.5L353.9,109.0L352.9,112.0L352.9,115.0L353.4,115.8L347.1,120.2L326.6,130.2L320.9,130.2L318.1,134.8L308.9,135.5L301.4,138.0L294.9,142.5L290.6,151.0L290.9,155.0L293.6,162.8L300.4,162.8L302.9,166.8L302.4,170.8L298.9,177.2L298.9,180.0L304.1,181.5L308.1,183.5L311.1,183.5L312.9,187.8L312.9,192.5L317.1,193.5L320.4,196.8L325.6,199.0L331.4,199.5L333.6,203.2L334.6,208.2L338.9,210.5L342.9,211.5L346.6,211.5L351.1,210.5L352.1,207.5L354.6,203.5L357.9,201.8L361.4,200.8L366.4,201.8L369.4,201.8L370.9,201.0L369.9,200.2L365.1,200.2L363.1,198.8L361.6,187.0L362.4,185.5L364.6,184.5L372.9,182.8L377.4,182.5L377.9,181.2L377.9,176.5L378.4,175.2L379.4,174.5L389.1,174.2L393.9,172.8L399.4,172.0L420.4,158.0L428.6,157.2L432.9,160.5L436.9,160.5L439.6,158.2L441.4,154.8L444.9,151.2L448.9,148.5L450.1,148.5L451.9,150.2L455.6,156.2L457.6,158.5L460.1,159.2L460.9,160.2L465.6,158.8L469.6,155.8L471.6,152.8L474.1,146.8L475.1,142.5L477.1,139.5L484.6,135.0L488.4,129.8L492.9,125.5L497.1,122.8L505.9,114.0L508.9,110.0L508.9,107.2L504.6,103.0L502.4,94.8L498.9,89.5L490.1,84.0L482.9,80.2L474.6,78.8L466.1,78.0L461.1,76.8L456.1,73.5L455.6,70.2L457.4,66.0L458.1,56.8L455.9,50.5L448.6,40.0L435.6,35.0L430.9,31.5L429.1,29.8ZM442.6,138.2L443.6,139.5L443.6,147.0L443.1,148.2L441.4,149.2L434.6,149.2L433.4,148.8L432.4,147.0L432.4,143.5L432.9,142.2L435.1,140.5L441.1,138.2ZM349.1,128.8L350.6,129.0L357.6,136.0L359.1,138.8L358.1,142.0L353.4,145.0L351.9,145.0L350.6,143.8L348.6,137.5L348.4,129.8Z" fill="#80c0a5" fill-rule="evenodd"/>
<path d="M431.4,153.2L430.4,154.8L430.4,156.5L432.1,158.8L433.6,159.5L436.1,159.5L438.4,158.0L439.1,156.5L439.1,154.5L438.4,153.2L435.6,152.0L433.1,152.2ZM426.9,22.5L415.6,24.2L413.6,31.5L407.1,32.5L405.6,35.2L407.1,45.8L407.1,48.8L406.4,49.5L403.4,49.8L401.1,51.8L394.6,49.8L385.9,49.5L379.6,51.2L377.4,53.2L375.4,56.0L373.4,65.8L374.1,75.2L373.1,77.5L370.9,77.8L360.9,76.5L352.9,78.8L359.6,79.8L360.6,80.8L360.9,83.0L359.1,95.2L358.1,96.5L355.9,97.5L358.1,104.8L357.4,106.5L353.9,109.0L352.9,112.0L352.9,115.0L353.4,115.8L348.1,119.5L348.1,124.0L348.6,125.2L358.9,135.0L361.6,139.2L364.4,142.2L366.9,148.5L373.6,159.0L375.1,160.5L377.6,161.8L376.9,162.5L369.6,164.2L367.4,164.2L361.1,162.0L359.6,160.0L358.4,151.8L356.9,149.8L353.6,148.8L344.6,147.8L342.9,146.8L342.1,145.0L340.9,126.2L339.6,124.5L338.1,124.5L326.6,130.2L320.9,130.2L318.1,134.8L308.9,135.5L301.4,138.0L294.9,142.5L290.6,151.0L290.9,155.0L293.6,162.8L300.4,162.8L302.9,166.8L302.4,170.8L298.9,178.0L300.1,178.8L301.9,181.0L304.1,181.5L308.1,183.5L311.1,183.5L311.6,184.0L312.9,187.8L312.9,192.5L317.1,193.5L320.4,196.8L325.6,199.0L327.6,199.2L328.6,196.5L330.4,196.0L331.6,197.8L332.1,200.8L333.6,203.2L334.6,208.2L338.9,210.5L342.4,211.0L343.1,209.2L343.1,202.0L344.1,200.2L345.4,199.8L350.4,199.8L351.1,198.8L350.6,193.8L344.4,178.2L345.1,176.0L346.1,175.0L348.6,174.0L354.6,173.2L360.4,171.8L388.6,171.5L389.9,169.8L389.9,162.0L390.6,159.8L390.9,154.5L392.1,153.0L410.6,152.8L412.4,152.2L433.1,139.5L442.4,136.0L444.9,136.2L448.4,138.2L450.6,145.8L458.4,156.8L462.9,157.8L467.6,157.2L470.1,155.2L471.6,152.8L474.1,146.8L475.1,142.5L477.1,139.5L484.6,135.0L488.4,129.8L492.9,125.5L497.1,122.8L505.9,114.0L508.9,110.0L508.9,107.2L504.6,103.0L502.4,94.8L498.9,89.5L490.1,84.0L482.9,80.2L474.6,78.8L466.1,78.0L461.1,76.8L457.4,74.8L456.1,73.5L455.6,70.2L457.4,66.0L458.1,56.8L455.9,50.5L448.6,40.0L436.6,35.2L431.4,35.0L430.4,34.0L427.6,23.0ZM412.6,116.8L413.4,116.8L414.4,117.8L414.4,119.2L413.4,120.2L412.4,120.2L411.4,119.2L411.4,118.0Z" fill="#b6d787" fill-rule="evenodd"/>
<path d="M432.1,154.5L431.6,156.5L433.6,158.5L435.1,158.8L436.6,158.2L438.1,156.0L437.9,155.0L435.9,153.5L433.9,153.5ZM329.1,129.0L326.6,130.2L320.9,130.2L318.1,134.8L308.9,135.5L301.4,138.0L294.9,142.5L290.6,151.0L290.6,154.0L293.1,161.8L295.6,162.8L300.4,162.8L302.9,166.8L302.4,170.8L299.4,176.8L302.1,179.0L302.9,181.2L308.1,183.5L311.1,183.5L311.6,184.0L312.9,187.8L312.9,192.5L317.1,193.5L320.4,196.8L325.6,199.0L327.1,195.2L328.1,194.2L329.4,193.8L333.6,194.2L334.6,193.8L339.4,186.0L339.4,183.5L336.4,173.2L330.9,158.2L327.4,141.8L327.4,138.2ZM427.1,23.8L415.4,25.2L413.6,31.5L407.1,32.5L406.6,35.8L408.6,48.0L408.4,49.8L407.4,50.8L401.9,51.0L401.1,51.8L398.1,50.8L381.4,50.8L379.1,51.5L375.6,55.2L374.1,62.5L375.1,77.8L374.4,81.5L373.4,103.8L372.6,104.8L371.4,105.2L362.4,105.5L361.4,106.5L361.4,109.2L363.6,114.2L364.4,119.0L366.1,123.2L366.1,140.5L366.9,144.2L367.9,146.8L375.1,158.0L376.6,159.0L386.9,159.8L388.6,159.0L390.1,147.0L391.4,145.8L395.1,145.5L396.6,144.8L397.1,143.5L397.1,135.0L398.1,133.2L399.4,132.8L411.6,132.8L431.4,128.8L439.4,128.0L442.6,128.5L453.4,134.0L455.1,135.8L456.9,139.5L463.1,148.2L464.9,149.0L473.1,149.0L475.1,142.5L477.1,139.5L484.6,135.0L489.6,128.5L489.9,126.8L497.1,122.8L507.4,112.0L508.6,107.0L504.6,103.0L502.4,94.8L498.9,89.5L490.1,84.0L482.9,80.2L474.6,78.8L466.1,78.0L458.4,76.2L455.6,74.8L455.6,70.2L458.1,60.2L458.1,56.8L455.9,50.5L448.6,40.0L438.6,36.0L430.6,35.8L429.1,33.5L428.6,27.2L427.9,24.2ZM412.4,115.2L415.1,115.8L416.4,118.0L415.9,120.5L413.6,122.2L411.1,121.8L409.6,119.8L409.6,118.2L410.4,116.8Z" fill="#e6ee62" fill-rule="evenodd"/>
<path d="M434.9,155.5L434.1,156.0L434.6,156.8L435.6,156.2ZM310.9,135.2L302.4,137.5L295.4,142.0L290.6,151.0L290.6,154.0L292.6,160.2L296.4,161.5L298.1,162.8L300.4,162.8L302.9,166.8L302.4,170.8L300.1,175.8L302.1,177.0L303.9,179.2L305.4,180.2L309.9,181.8L314.1,181.8L315.4,181.2L316.1,179.8L316.1,169.0L312.4,150.8L311.9,137.8ZM375.6,55.2L375.1,59.2L376.4,73.0L375.6,105.0L376.6,113.0L377.9,117.2L383.1,124.0L385.1,125.5L393.1,127.0L396.1,126.8L404.6,121.5L410.4,114.8L414.1,113.5L416.6,113.5L420.4,114.8L440.1,116.2L455.9,116.2L457.1,116.8L458.1,118.5L458.1,136.2L459.1,139.2L460.6,140.0L476.9,140.0L477.6,139.0L481.9,137.0L485.4,134.2L488.4,130.0L488.4,127.2L489.6,125.8L497.4,122.5L505.9,114.0L507.4,105.8L504.6,103.0L502.4,94.8L499.4,90.2L497.1,89.8L493.9,86.2L482.9,80.2L474.6,78.8L461.4,77.8L456.9,76.5L455.1,75.2L454.6,73.0L457.6,59.5L457.4,54.5L455.9,50.5L448.6,40.0L440.1,36.5L431.6,36.8L430.1,36.2L428.6,34.2L427.9,27.0L426.9,24.8L425.6,24.5L415.1,26.2L413.6,31.5L407.1,32.5L408.4,42.5L409.9,47.8L409.6,50.2L408.4,51.8L407.1,52.2L403.9,52.2L401.1,51.8L379.6,51.5ZM493.4,92.2L496.4,92.8L498.1,94.5L499.1,97.5L498.1,101.5L495.4,103.8L493.4,103.8L491.6,102.8L490.1,100.5L489.6,98.5L490.6,94.5Z" fill="#ffe14c" fill-rule="evenodd"/>
<path d="M302.1,139.2L299.6,140.2L297.4,142.5L296.4,145.2L296.4,147.2L297.4,150.0L298.6,151.5L301.1,153.0L304.4,153.2L307.4,152.0L308.9,150.5L310.1,147.5L310.1,145.2L309.4,142.8L307.4,140.5L304.4,139.2ZM380.6,69.8L382.4,71.8L385.9,73.2L388.1,73.2L391.4,71.8L393.1,69.8L394.1,67.0L393.6,63.8L391.6,60.0L393.4,59.0L402.1,58.8L403.1,57.2L402.6,54.2L400.1,53.0L380.4,52.8L379.6,53.8L380.1,56.5L382.1,59.5L382.1,60.8L380.6,62.8L379.6,65.5ZM408.1,32.2L409.4,41.5L410.4,43.2L418.6,43.5L424.4,44.5L425.4,45.2L426.1,48.5L427.1,60.0L425.9,61.2L423.4,62.0L403.9,61.8L402.4,64.0L401.6,74.2L400.6,75.8L399.4,76.2L386.1,76.2L384.4,77.5L382.4,92.5L381.9,102.8L385.4,113.8L388.6,115.5L393.4,116.8L395.9,116.8L403.6,111.5L406.1,107.0L408.4,105.5L446.9,105.5L448.6,104.5L449.6,101.2L450.6,100.5L451.6,100.5L461.4,105.8L465.1,106.8L468.1,106.8L468.6,107.5L467.9,109.5L468.1,112.8L470.1,115.2L472.9,116.8L475.9,117.5L478.9,117.5L483.9,116.2L483.9,121.8L484.6,123.5L486.1,125.0L488.1,125.5L494.4,123.0L495.6,121.8L496.1,120.2L495.1,117.0L491.6,114.5L486.4,114.2L486.9,109.5L484.6,106.2L482.6,105.0L478.9,104.0L472.4,104.5L471.6,103.8L470.4,94.8L470.6,92.0L471.9,90.5L476.9,88.5L480.6,88.5L487.4,89.5L489.6,89.2L490.6,87.8L490.6,84.5L482.9,80.2L469.9,79.8L462.1,78.8L458.1,77.8L454.9,76.0L454.1,74.8L454.1,72.8L456.9,60.8L456.9,53.0L455.9,50.5L448.9,40.2L440.9,37.0L431.1,37.2L429.6,36.8L428.6,35.8L427.6,33.2L427.1,27.8L426.1,25.8L414.9,27.2L413.6,31.5Z" fill="#ffae36" fill-rule="evenodd"/>
<path d="M302.6,141.8L301.1,142.2L299.9,143.5L299.1,145.2L299.1,147.2L301.1,150.2L303.1,150.8L304.6,150.2L306.1,148.8L306.6,145.0L305.4,142.8ZM492.9,116.8L490.4,115.8L486.9,116.8L485.6,118.2L485.1,120.0L486.1,123.0L488.1,124.2L492.9,123.0L494.6,120.5L494.1,118.2ZM473.1,110.2L473.4,111.8L474.6,113.0L476.9,113.8L481.1,113.2L483.1,111.0L482.9,109.8L481.6,108.5L479.4,107.8L475.1,108.2ZM390.4,101.0L388.9,101.8L387.4,103.5L386.6,106.0L386.9,107.8L388.9,110.8L390.4,111.5L392.9,111.5L395.6,109.5L396.6,106.8L396.4,104.8L395.4,102.8L393.9,101.5ZM385.9,62.2L383.6,64.0L383.1,65.0L383.1,67.5L384.9,69.8L387.9,70.2L390.1,68.5L390.9,66.2L390.6,65.0L388.9,62.8ZM415.9,29.2L414.9,30.5L416.9,38.5L420.4,41.8L422.1,42.5L425.1,42.8L426.9,44.2L428.4,52.8L428.9,61.0L425.4,64.2L424.4,74.5L422.4,84.5L422.9,94.5L424.1,98.2L427.9,100.8L431.1,101.5L438.9,96.8L445.4,94.8L447.4,94.8L456.1,100.0L461.9,101.5L465.4,104.8L468.1,104.5L469.1,103.5L468.4,96.5L468.4,92.2L469.1,88.5L467.9,87.2L459.1,84.8L457.9,82.8L457.9,79.2L454.6,76.8L453.6,75.2L453.6,72.0L456.4,60.2L456.1,51.0L448.9,40.2L443.1,37.8L430.4,37.8L429.1,37.2L427.1,34.8L426.4,30.0L425.4,28.2L424.4,28.0Z" fill="#ff8a26" fill-rule="evenodd"/>
<path d="M427.6,90.0L426.1,90.8L425.1,92.0L424.9,95.8L426.9,98.2L430.6,98.8L433.1,96.5L433.4,93.2L431.6,90.8L430.1,90.0ZM426.9,38.0L426.9,39.5L430.4,49.0L433.4,55.0L435.4,61.5L438.4,66.8L439.9,68.2L445.6,70.8L449.1,76.8L451.9,79.8L453.4,80.0L454.6,79.5L454.9,78.8L452.6,75.5L452.6,72.2L455.6,60.0L455.9,54.8L455.4,50.5L453.6,47.2L448.9,40.2L445.1,38.5L439.4,38.0L429.4,38.5L427.6,37.8Z" fill="#ff5517" fill-rule="evenodd"/>
<path d="M428.6,94.0L427.9,95.2L429.1,96.0L429.9,95.5L429.9,94.5ZM433.1,39.2L432.4,40.0L433.1,43.8L437.1,51.0L439.9,58.5L441.6,60.2L444.9,62.2L447.1,62.2L453.1,60.2L454.6,57.8L454.6,51.8L452.6,47.5L448.1,41.8L446.1,40.0L443.6,39.2Z" fill="#ff1212" fill-rule="evenodd"/>
</g>
<rect x="288.6" y="18.8" width="243.4" height="205.3" fill="none" stroke="#6a6a6a" stroke-width="1.15"/>
<path d="M314.0,16.5V18.8M314.0,224.1V226.4M390.0,16.5V18.8M390.0,224.1V226.4M466.0,16.5V18.8M466.0,224.1V226.4M286.3,79.8H288.6M532.0,79.8H534.3M286.3,143.9H288.6M532.0,143.9H534.3M286.3,203.6H288.6M532.0,203.6H534.3" stroke="#333" stroke-width="1" fill="none"/>
<text class="ax" x="314.0" y="14.7" text-anchor="middle">76° E</text>
<text class="ax" x="314.0" y="235.2" text-anchor="middle">76° E</text>
<text class="ax" x="390.0" y="14.7" text-anchor="middle">84° E</text>
<text class="ax" x="390.0" y="235.2" text-anchor="middle">84° E</text>
<text class="ax" x="466.0" y="14.7" text-anchor="middle">92° E</text>
<text class="ax" x="466.0" y="235.2" text-anchor="middle">92° E</text>
<text class="ax" transform="translate(283.6,80.2) rotate(-90)" text-anchor="middle">45° N</text>
<text class="ax" transform="translate(543.2,80.2) rotate(-90)" text-anchor="middle">45° N</text>
<text class="ax" transform="translate(283.6,144.1) rotate(-90)" text-anchor="middle">40° N</text>
<text class="ax" transform="translate(543.2,144.1) rotate(-90)" text-anchor="middle">40° N</text>
<text class="ax" transform="translate(283.6,203.9) rotate(-90)" text-anchor="middle">35° N</text>
<text class="ax" transform="translate(543.2,203.9) rotate(-90)" text-anchor="middle">35° N</text>
<text class="pl" x="296.8" y="43.1">b</text>
<text class="nn" x="335.4" y="32.2" text-anchor="middle">N</text>
<path d="M335.4,34.0L330.1,52.0L335.1,46.2Z" fill="#111"/>
<path d="M335.4,34.0L340.3,52.0L335.1,46.2Z" fill="#fff" stroke="#111" stroke-width="0.7" stroke-linejoin="miter"/>
<rect x="361.0" y="214.80" width="34.6" height="2.5" fill="#111"/>
<path d="M395.6,214.95H430.1V217.15H395.6" fill="#fff" stroke="#111" stroke-width="0.45"/>
<text class="sb" x="361.0" y="212.3" text-anchor="middle">0</text>
<text class="sb" x="378.3" y="212.3" text-anchor="middle">125</text>
<text class="sb" x="395.6" y="212.3" text-anchor="middle">250</text>
<text class="sb" x="430.2" y="212.3" text-anchor="middle">500</text>
<text class="sb" x="431.2" y="217.6">km</text>
<rect x="488.8" y="129.8" width="6.4" height="3.2" fill="#2090d2"/>
<text class="lg" x="496.6" y="133.4">2 – 5</text>
<rect x="488.8" y="138.0" width="6.4" height="3.2" fill="#39a6bd"/>
<text class="lg" x="496.6" y="141.6">5 – 6</text>
<rect x="488.8" y="146.2" width="6.4" height="3.2" fill="#80c0a5"/>
<text class="lg" x="496.6" y="149.8">6 – 7</text>
<rect x="488.8" y="154.4" width="6.4" height="3.2" fill="#b6d787"/>
<text class="lg" x="496.6" y="158.0">7 – 7</text>
<rect x="488.8" y="162.6" width="6.4" height="3.2" fill="#e6ee62"/>
<text class="lg" x="496.6" y="166.2">7 – 8</text>
<rect x="488.8" y="170.8" width="6.4" height="3.2" fill="#ffe14c"/>
<text class="lg" x="496.6" y="174.3">8 – 10</text>
<rect x="488.8" y="178.9" width="6.4" height="3.2" fill="#ffae36"/>
<text class="lg" x="496.6" y="182.5">10 – 12</text>
<rect x="488.8" y="187.1" width="6.4" height="3.2" fill="#ff8a26"/>
<text class="lg" x="496.6" y="190.7">12 – 17</text>
<rect x="488.8" y="195.3" width="6.4" height="3.2" fill="#ff5517"/>
<text class="lg" x="496.6" y="198.9">17 – 24</text>
<rect x="488.8" y="203.5" width="6.4" height="3.2" fill="#ff1212"/>
<text class="lg" x="496.6" y="207.1">24 – 38</text>
<circle cx="477.9" cy="213.8" r="1.3" fill="#10d010" stroke="#2a9a2a" stroke-width="0.4"/>
<text class="lg" x="485.2" y="215.8">Weather Stations</text>
<g fill="#12d812" stroke="#25a025" stroke-width="0.4"><circle cx="412.1" cy="38.0" r="1.25"/><circle cx="428.7" cy="42.9" r="1.25"/><circle cx="417.2" cy="42.9" r="1.25"/><circle cx="423.0" cy="51.4" r="1.25"/><circle cx="406.0" cy="56.0" r="1.25"/><circle cx="442.2" cy="53.4" r="1.25"/><circle cx="380.2" cy="56.7" r="1.25"/><circle cx="386.2" cy="67.5" r="1.25"/><circle cx="397.8" cy="72.3" r="1.25"/><circle cx="376.8" cy="77.7" r="1.25"/><circle cx="371.8" cy="81.1" r="1.25"/><circle cx="379.3" cy="84.9" r="1.25"/><circle cx="416.7" cy="91.3" r="1.25"/><circle cx="429.1" cy="94.6" r="1.25"/><circle cx="391.2" cy="105.8" r="1.25"/><circle cx="430.6" cy="101.9" r="1.25"/><circle cx="439.2" cy="107.0" r="1.25"/><circle cx="429.9" cy="116.0" r="1.25"/><circle cx="414.0" cy="117.9" r="1.25"/><circle cx="410.1" cy="121.9" r="1.25"/><circle cx="475.7" cy="98.4" r="1.25"/><circle cx="494.0" cy="96.5" r="1.25"/><circle cx="491.1" cy="103.0" r="1.25"/><circle cx="480.1" cy="108.5" r="1.25"/><circle cx="491.0" cy="124.5" r="1.25"/><circle cx="424.9" cy="136.4" r="1.25"/><circle cx="354.4" cy="129.3" r="1.25"/><circle cx="378.1" cy="128.8" r="1.25"/><circle cx="342.9" cy="137.6" r="1.25"/><circle cx="362.1" cy="137.6" r="1.25"/><circle cx="306.1" cy="147.8" r="1.25"/><circle cx="315.9" cy="147.5" r="1.25"/><circle cx="313.7" cy="150.4" r="1.25"/><circle cx="329.5" cy="156.9" r="1.25"/><circle cx="325.9" cy="163.2" r="1.25"/><circle cx="335.7" cy="173.1" r="1.25"/><circle cx="351.3" cy="178.7" r="1.25"/><circle cx="367.9" cy="181.8" r="1.25"/><circle cx="377.6" cy="179.5" r="1.25"/><circle cx="404.7" cy="166.7" r="1.25"/></g>
<g class="st">
<text x="406.4" y="43.3">Habahe</text>
<text x="423.0" y="40.6">Altay</text>
<text x="407.0" y="48.4">Buerjin</text>
<text x="423.6" y="49.0">Fuhai</text>
<text x="407.6" y="53.9">Hefeng</text>
<text x="438.1" y="51.1">Fuyun</text>
<text x="382.5" y="61.2">Tarbagatay</text>
<text x="387.9" y="65.0">Toli</text>
<text x="399.4" y="70.1">Karamay</text>
<text x="378.6" y="75.9">Alashankou</text>
<text x="373.8" y="81.9">Bole</text>
<text x="381.1" y="88.3">Jinghe</text>
<text x="417.7" y="89.5">Hutubi</text>
<text x="430.9" y="95.3">Urumchi</text>
<text x="389.5" y="104.0">Bayinbuluk</text>
<text x="414.2" y="107.2">Dabancheng</text>
<text x="441.1" y="105.1">Turpan</text>
<text x="431.3" y="114.2">Kumishi</text>
<text x="416.3" y="116.0">Yanqi</text>
<text x="400.6" y="120.0">Kuerle</text>
<text x="472.8" y="96.7">Balikun</text>
<text x="491.1" y="94.5">Naomaohu</text>
<text x="490.0" y="101.2">Yiwu</text>
<text x="477.6" y="106.7">Hami</text>
<text x="470.3" y="122.9">Hongliuhe</text>
<text x="426.3" y="134.4">Tieganlike</text>
<text x="356.1" y="127.5">Aksu</text>
<text x="379.9" y="126.9">Shaya</text>
<text x="344.4" y="135.7">Kalpin</text>
<text x="363.1" y="135.7">Alaer</text>
<text x="308.3" y="145.9">Wuqia</text>
<text x="317.1" y="152.9">Atushi</text>
<text x="299.3" y="155.7">Kashgar</text>
<text x="330.9" y="155.0">Makit</text>
<text x="328.0" y="161.2">Yarkant</text>
<text x="336.9" y="171.0">Pishan</text>
<text x="352.5" y="176.6">Hotan</text>
<text x="369.8" y="179.3">Yutian</text>
<text x="378.8" y="186.6">Minfeng</text>
<text x="406.0" y="164.8">Qiemo</text>
</g>
</g>
<g>
<g clip-path="url(#clipc)">
<path d="M107.9,307.4L106.6,302.3L106.0,297.2L106.4,295.1L108.2,286.0L111.8,282.3L120.5,279.8L128.4,281.5L132.8,283.4L135.8,280.8L138.2,276.9L137.3,267.8L140.0,263.2L146.4,262.3L148.2,255.1L151.8,252.3L157.3,253.2L159.1,260.5L162.7,264.1L165.0,265.6L171.0,267.8L178.4,270.8L182.1,276.0L185.9,281.9L188.1,287.9L187.3,293.9L185.1,299.8L185.9,304.3L190.3,307.3L196.3,308.8L203.7,309.5L212.7,311.0L218.6,314.0L224.6,317.7L229.1,320.7L232.0,325.1L233.5,329.6L234.5,333.8L238.8,338.1L235.2,342.5L231.5,346.1L227.2,350.5L222.4,353.9L219.4,356.5L217.2,359.2L215.0,362.5L211.8,365.2L207.4,367.0L205.2,370.1L204.1,374.5L201.9,379.9L199.8,383.7L194.9,387.0L188.9,388.8L182.3,391.4L179.6,393.2L185.0,396.9L183.2,401.4L187.7,406.0L189.5,411.4L188.6,420.5L181.4,419.6L174.1,418.7L167.7,416.9L161.4,416.9L155.9,417.8L148.6,419.6L141.4,422.3L135.6,424.7L129.8,425.4L124.0,427.6L118.2,426.1L110.9,424.0L105.1,426.9L99.3,429.8L93.5,428.3L88.0,429.8L84.7,431.4L82.5,434.7L80.9,438.5L76.0,439.6L71.6,438.5L67.3,436.3L66.2,431.4L64.0,427.6L58.5,427.1L53.1,424.9L49.8,421.6L45.5,420.5L45.5,416.1L44.0,411.7L41.1,411.7L36.6,409.5L31.4,408.0L32.9,405.8L35.1,401.3L35.8,395.3L32.9,390.9L26.2,390.9L24.7,387.1L23.2,381.9L25.4,377.5L27.7,373.0L34.4,368.5L41.8,366.3L50.7,365.6L53.5,361.1L58.6,361.4L65.9,357.8L73.2,354.1L79.2,351.4L84.3,348.2L87.5,345.7L85.5,343.1L86.8,339.3L90.0,337.4L91.3,334.2L89.4,329.1L88.1,324.0L87.5,318.2L86.2,313.8L83.0,311.2L84.9,309.9L90.7,308.0L97.0,306.7L100.9,305.5Z" fill="#2090d2"/>
<path d="M158.8,251.8L150.5,251.1L147.0,253.8L145.0,261.1L138.5,262.1L136.0,266.6L136.8,276.1L134.8,279.4L132.5,281.4L130.2,280.4L122.5,278.6L119.0,278.6L110.5,281.1L106.8,285.6L104.8,295.4L105.2,305.1L103.0,304.4L99.5,304.4L85.0,308.1L81.8,309.9L81.8,312.6L85.2,315.9L86.2,319.4L86.8,325.9L89.5,333.9L88.8,336.1L85.2,338.6L84.2,341.6L84.2,344.6L84.8,345.4L78.5,349.9L58.0,359.9L52.2,359.9L49.5,364.4L40.2,365.1L32.8,367.6L26.2,372.1L22.0,380.6L22.2,384.6L25.0,392.4L31.8,392.4L34.2,396.4L33.8,400.4L30.2,406.9L30.2,409.6L35.5,411.1L39.5,413.1L42.5,413.1L44.2,417.4L44.2,422.1L48.5,423.1L51.8,426.4L57.0,428.6L62.8,429.1L65.0,432.9L66.0,437.9L70.2,440.1L74.2,441.1L78.0,441.1L82.5,440.1L84.2,435.6L86.2,432.9L92.8,430.4L97.8,431.4L100.8,431.4L111.2,426.1L122.5,429.1L125.8,429.1L131.0,426.9L137.2,426.1L149.8,421.1L162.5,418.4L166.8,418.4L173.8,420.4L186.5,422.1L190.0,422.1L191.0,409.9L189.2,404.9L185.5,400.9L186.5,398.6L186.5,395.6L183.2,393.4L189.5,390.6L196.0,388.9L201.0,385.4L204.0,380.4L206.5,372.1L208.5,369.1L216.0,364.6L219.8,359.4L224.2,355.1L228.5,352.4L237.2,343.6L240.2,339.6L240.2,336.9L236.0,332.6L233.8,324.4L230.2,319.1L221.5,313.6L214.2,309.9L206.0,308.4L197.5,307.6L192.5,306.4L187.5,303.1L187.0,299.9L188.8,295.6L189.5,286.4L187.2,280.1L180.0,269.6L167.0,264.6L162.2,261.1L160.5,259.4ZM85.0,355.1L86.8,355.4L88.5,357.6L88.2,359.4L86.0,361.1L84.2,360.9L82.5,358.6L82.8,356.9Z" fill="#39a6bd" fill-rule="evenodd"/>
<path d="M158.8,251.8L150.5,251.1L147.0,253.8L145.0,261.1L138.5,262.1L136.0,266.6L136.8,276.1L134.8,279.4L132.5,281.4L130.2,280.4L122.5,278.6L119.0,278.6L110.5,281.1L106.8,285.6L104.8,295.4L105.2,305.1L103.0,304.4L99.5,304.4L85.0,308.1L81.8,309.9L81.8,312.6L85.2,315.9L86.2,319.4L86.8,325.9L89.5,333.9L88.8,336.1L85.2,338.6L84.2,341.6L84.2,344.6L84.8,345.4L78.5,349.9L58.0,359.9L52.2,359.9L49.5,364.4L40.2,365.1L32.8,367.6L26.2,372.1L22.0,380.6L22.2,384.6L25.0,392.4L31.8,392.4L34.2,396.4L33.8,400.4L30.2,406.9L30.2,409.6L35.5,411.1L39.5,413.1L42.5,413.1L44.2,417.4L44.2,422.1L48.5,423.1L51.8,426.4L57.0,428.6L62.8,429.1L65.0,432.9L66.0,437.9L70.2,440.1L74.2,441.1L78.0,441.1L82.5,440.1L84.2,435.6L86.2,432.9L92.8,430.4L97.8,431.4L100.8,431.4L111.2,426.1L122.5,429.1L125.8,429.1L131.0,426.9L137.2,426.1L149.8,421.1L162.5,418.4L166.8,418.4L173.8,420.4L186.5,422.1L190.0,422.1L191.0,409.9L189.2,404.9L185.5,400.9L186.5,398.6L186.5,395.6L183.2,393.4L189.5,390.6L196.0,388.9L201.0,385.4L204.0,380.4L206.5,372.1L208.5,369.1L216.0,364.6L219.8,359.4L224.2,355.1L228.5,352.4L237.2,343.6L240.2,339.6L240.2,336.9L236.0,332.6L233.8,324.4L230.2,319.1L221.5,313.6L214.2,309.9L206.0,308.4L197.5,307.6L192.5,306.4L187.5,303.1L187.0,299.9L188.8,295.6L189.5,286.4L187.2,280.1L180.0,269.6L167.0,264.6L162.2,261.1L160.5,259.4ZM149.2,409.9L150.8,408.4L161.0,408.4L162.5,409.9L162.5,413.6L161.0,415.1L150.8,415.1L149.2,413.6ZM83.8,402.4L85.5,402.9L89.5,407.4L90.5,410.1L91.0,418.9L88.8,422.1L86.8,423.9L84.8,423.6L81.2,420.1L77.5,412.6L77.2,407.1L77.8,406.1ZM188.8,380.4L192.0,379.9L194.5,381.6L195.0,384.4L193.2,386.9L190.0,387.4L187.5,385.6L187.0,382.6ZM177.8,371.1L183.2,373.4L184.8,375.4L186.0,379.1L185.8,380.4L184.5,381.6L180.8,383.6L175.8,383.4L174.0,382.6L172.0,378.1L172.0,376.6L172.8,375.1L176.0,371.9ZM95.8,356.4L97.0,359.6L98.2,367.9L94.8,374.6L91.5,378.4L81.8,383.1L75.8,384.6L73.2,384.6L67.2,383.1L61.0,380.4L59.0,378.6L58.2,374.6L58.2,371.1L58.8,370.1L67.2,365.9L79.8,350.4L86.5,348.4L88.5,348.6L92.2,351.9Z" fill="#80c0a5" fill-rule="evenodd"/>
<path d="M100.2,399.9L99.0,400.9L97.8,403.6L97.2,409.9L97.8,412.6L99.0,415.4L100.2,416.4L101.8,416.4L103.0,415.4L104.2,412.6L104.8,406.4L104.2,403.6L103.0,400.9L101.8,399.9ZM26.8,371.6L22.0,380.6L22.2,384.6L23.5,386.9L29.2,391.1L32.0,392.1L35.5,391.9L37.5,393.1L38.8,412.6L39.5,413.1L42.5,413.1L44.2,417.4L47.2,417.1L48.5,415.1L49.2,408.6L50.5,407.6L51.8,407.9L63.0,414.9L69.2,415.9L74.5,421.9L79.8,430.1L81.0,431.4L83.5,431.4L84.0,429.6L82.8,425.1L79.5,420.6L76.2,414.6L74.8,408.9L72.8,406.9L68.2,399.4L58.2,393.1L51.0,389.6L49.5,388.1L49.0,386.9L49.0,368.4L48.5,367.1L44.2,364.9L40.2,365.1L33.8,367.1ZM150.5,251.1L147.0,253.8L145.0,261.1L138.5,262.1L136.0,266.6L136.8,276.1L134.8,279.4L132.5,281.4L130.2,280.4L122.5,278.6L119.0,278.6L111.0,280.9L108.8,282.9L106.8,285.6L104.8,295.4L105.2,305.1L103.0,304.4L99.5,304.4L85.0,308.1L81.8,309.9L81.8,312.6L85.0,315.4L86.0,318.4L86.8,325.9L89.5,333.9L88.8,335.9L94.0,333.6L96.0,333.6L101.8,339.1L107.2,348.1L108.0,353.9L106.8,356.6L106.8,360.9L105.8,363.6L105.5,393.4L106.0,394.6L107.5,395.4L123.2,395.4L125.2,396.6L126.0,400.9L126.0,405.1L121.5,414.4L121.5,416.4L123.5,420.9L125.2,422.4L127.8,422.1L138.5,419.1L140.2,417.4L146.2,408.1L158.0,396.4L160.5,394.6L161.8,387.1L166.0,383.6L167.0,380.9L166.0,377.6L163.2,374.1L164.0,366.6L165.5,364.6L195.2,364.4L196.5,364.9L197.5,366.4L198.0,380.6L198.2,381.6L199.5,382.1L205.5,376.4L206.5,372.1L208.5,369.1L216.0,364.6L219.8,359.4L224.2,355.1L228.5,352.4L237.2,343.6L240.2,339.6L240.2,336.9L236.0,332.6L233.8,324.4L230.2,319.1L221.5,313.6L214.2,309.9L206.0,308.4L197.5,307.6L192.5,306.4L187.5,303.1L187.0,299.9L188.8,295.6L189.5,286.4L187.2,280.1L180.0,269.6L167.0,264.6L162.2,261.1L160.5,259.4L158.8,251.8Z" fill="#b6d787" fill-rule="evenodd"/>
<path d="M134.2,382.9L132.8,384.4L132.0,386.4L130.8,396.9L134.2,403.4L135.5,404.4L137.2,404.6L141.2,403.6L143.5,401.9L146.2,393.6L144.8,390.4L140.0,383.6L137.8,382.9ZM160.2,375.9L158.2,377.4L157.5,379.1L157.5,381.4L158.5,383.4L159.5,384.1L162.2,384.4L165.0,382.4L165.5,380.6L165.2,379.4L162.8,376.6L161.5,375.9ZM42.8,365.6L38.5,365.6L33.8,367.1L26.2,372.1L23.0,378.6L23.0,384.1L24.0,385.6L30.0,390.1L32.5,390.9L36.5,390.6L38.2,391.1L42.8,391.1L44.8,390.1L45.2,389.1L44.8,368.6L44.0,366.6ZM81.8,309.9L81.8,312.6L85.2,315.9L86.2,319.4L86.8,325.9L89.2,333.6L93.0,332.1L94.0,330.9L92.8,327.4L90.8,317.4L90.8,314.9L91.5,313.9L94.8,312.1L97.0,311.9L103.5,315.4L111.0,316.6L113.2,318.1L114.0,321.4L114.8,331.1L116.0,335.9L115.8,341.1L118.2,345.1L121.2,348.4L129.8,348.9L139.2,347.4L143.0,345.9L144.8,341.1L146.8,339.4L155.2,338.4L160.2,338.4L161.2,339.4L161.5,343.4L162.8,345.1L175.5,344.4L176.2,344.9L175.2,348.4L175.5,354.1L177.2,358.1L179.2,360.1L181.2,360.9L183.0,360.4L184.8,357.4L184.8,352.6L184.0,350.1L180.5,344.9L181.8,343.4L186.2,343.1L193.2,343.9L208.5,347.9L212.5,347.9L218.2,346.9L231.0,347.4L233.5,347.1L237.2,343.6L240.0,339.9L240.0,336.6L236.0,332.6L233.8,324.4L230.2,319.1L221.5,313.6L214.2,309.9L206.0,308.4L197.5,307.6L192.5,306.4L187.5,303.1L187.0,299.9L188.8,295.6L189.5,286.4L187.2,280.1L180.0,269.6L167.0,264.6L162.2,261.1L160.5,259.4L158.8,251.8L150.5,251.1L147.0,253.8L145.0,261.1L138.5,262.1L136.0,266.6L136.8,276.1L134.8,279.4L132.5,281.4L130.2,280.4L122.5,278.6L119.0,278.6L111.0,280.9L108.8,282.9L106.8,285.6L104.8,295.4L105.2,305.1L102.8,304.4L101.5,305.4L94.2,305.6L84.2,308.4ZM149.0,270.4L153.5,270.4L156.0,273.1L156.2,277.1L155.0,279.4L153.0,280.9L151.2,280.9L148.8,278.1L146.2,276.4L146.5,273.1Z" fill="#e6ee62" fill-rule="evenodd"/>
<path d="M33.8,367.1L26.2,372.1L24.5,375.6L24.2,383.6L26.0,385.6L31.5,389.4L42.2,389.4L43.5,388.1L42.8,367.6L41.8,366.9ZM178.8,347.9L177.8,349.4L178.0,353.4L179.5,356.6L181.2,357.9L182.2,356.4L182.0,352.6L180.8,349.4ZM107.0,284.9L104.8,295.4L104.8,299.9L105.5,304.9L104.2,304.9L104.0,308.4L105.8,310.4L112.5,313.1L114.2,315.1L115.5,319.1L116.5,330.9L117.8,335.4L117.5,340.6L120.5,345.1L122.5,346.9L127.8,346.9L130.5,346.1L134.0,342.6L148.5,334.9L152.0,336.1L168.2,336.1L169.5,335.6L172.5,332.1L174.0,332.1L178.0,335.9L181.2,337.6L215.5,337.6L219.8,338.4L221.5,339.6L222.5,344.1L224.0,345.4L235.5,345.4L237.8,342.9L238.8,339.6L238.8,335.4L236.0,332.6L233.8,324.4L230.2,319.1L218.2,311.9L210.2,309.1L197.5,307.6L192.5,306.4L187.5,303.1L187.0,299.9L188.8,295.6L189.5,286.4L187.2,280.1L180.0,269.6L167.0,264.6L162.2,261.1L160.5,259.4L158.8,251.8L150.5,251.1L147.0,253.8L145.0,261.1L138.5,262.1L136.0,266.6L136.8,276.1L134.8,279.4L132.5,281.4L130.2,280.4L122.5,278.6L119.0,278.6L110.5,281.1ZM141.2,264.6L144.5,264.4L146.0,265.4L146.8,267.6L148.0,268.6L155.0,268.9L157.2,269.9L158.8,271.4L160.0,280.4L160.0,283.1L158.8,284.6L151.8,284.9L150.2,283.9L149.2,280.9L148.0,279.4L142.8,278.1L141.0,276.9L140.0,266.1Z" fill="#ffe14c" fill-rule="evenodd"/>
<path d="M35.2,372.1L32.8,374.1L32.2,377.4L34.2,380.1L37.2,380.6L39.8,378.6L40.2,375.4L38.2,372.6ZM227.0,317.9L225.2,316.4L220.5,313.9L210.2,310.4L207.8,310.4L202.2,312.1L200.0,313.9L197.8,319.9L197.8,324.1L198.8,328.9L200.2,330.9L204.2,333.9L207.5,334.1L211.2,333.6L213.0,332.6L217.5,328.1L222.8,321.9L227.0,319.1ZM108.8,282.9L107.2,291.4L107.2,304.4L108.0,305.9L109.2,306.4L125.8,306.4L127.0,305.9L129.2,303.4L132.8,304.6L146.2,304.9L147.5,305.9L148.2,308.4L147.2,322.4L149.5,330.9L151.0,333.6L152.2,334.4L155.0,334.6L167.8,334.4L169.0,333.6L173.5,328.1L178.8,315.6L177.0,307.1L175.8,304.1L170.5,298.1L166.5,294.6L155.8,293.1L150.0,293.1L149.0,291.6L149.0,286.6L148.0,281.6L147.0,280.4L137.0,278.4L135.0,278.6L132.5,281.4L129.2,280.1L126.8,280.9L111.0,280.9ZM148.0,254.1L147.2,255.6L147.2,262.6L148.2,266.4L149.2,267.1L154.0,267.1L157.2,267.9L161.8,270.9L168.5,273.9L172.8,277.6L176.2,284.9L177.5,294.4L180.8,302.4L185.0,309.9L186.2,311.1L189.2,310.6L190.0,309.9L190.0,308.4L187.2,302.4L186.5,296.9L186.5,293.4L189.2,287.6L189.2,285.6L187.5,280.6L184.5,278.1L181.5,273.4L176.5,268.4L175.0,267.6L168.2,267.9L163.2,265.6L161.5,263.6L161.5,260.4L160.5,259.4L159.2,253.6L149.2,253.6Z" fill="#ffae36" fill-rule="evenodd"/>
<path d="M35.8,374.4L35.0,374.9L34.5,376.9L35.2,378.1L36.8,378.4L37.5,377.9L38.0,375.9L37.2,374.6ZM212.2,314.4L208.0,314.1L206.2,314.6L202.8,317.1L200.8,320.1L200.2,321.6L200.8,326.9L201.8,328.6L205.0,331.4L207.5,331.6L210.2,330.6L212.8,327.4L214.2,324.4L215.2,321.1L215.2,318.6L214.0,315.9ZM160.2,312.4L156.2,313.6L154.2,315.6L152.2,321.1L152.5,325.1L153.8,328.4L155.5,330.6L159.0,332.4L161.0,332.4L164.0,331.1L166.0,328.9L167.8,323.9L167.5,319.6L165.8,315.6L163.0,313.1ZM117.0,291.1L114.5,292.1L113.0,293.6L112.0,297.4L113.0,300.1L114.5,301.6L116.0,302.4L118.5,302.6L121.0,301.6L122.5,300.1L123.5,296.4L122.5,293.6L121.0,292.1L119.5,291.4ZM185.2,281.9L184.0,283.4L183.8,286.1L184.2,288.1L185.8,289.4L186.8,288.9L187.2,287.9L187.2,284.1L186.5,282.4ZM143.2,281.4L141.5,280.6L137.5,280.1L132.2,281.4L130.0,282.9L129.8,285.4L131.0,293.4L132.0,294.6L136.2,295.6L138.8,295.6L142.5,294.4L144.5,292.9L144.8,288.9L144.2,283.1Z" fill="#ff8a26" fill-rule="evenodd"/>
<path d="M159.8,318.1L158.5,318.6L156.8,320.6L156.0,325.1L156.8,327.6L158.2,329.4L161.2,329.9L163.2,328.4L164.0,326.9L164.5,323.1L163.5,320.1L162.0,318.6ZM116.8,294.1L115.2,295.6L115.2,298.1L116.8,299.6L118.8,299.6L120.2,298.1L120.2,295.6L118.8,294.1Z" fill="#ff5517" fill-rule="evenodd"/>
<path d="M159.2,323.9L159.2,325.4L160.5,325.9L161.5,324.6L160.8,323.4Z" fill="#ff1212" fill-rule="evenodd"/>
</g>
<rect x="20.0" y="248.4" width="243.4" height="205.3" fill="none" stroke="#6a6a6a" stroke-width="1.15"/>
<path d="M45.4,246.1V248.4M45.4,453.7V456.0M121.4,246.1V248.4M121.4,453.7V456.0M197.4,246.1V248.4M197.4,453.7V456.0M17.7,309.4H20.0M263.4,309.4H265.7M17.7,373.5H20.0M263.4,373.5H265.7M17.7,433.2H20.0M263.4,433.2H265.7" stroke="#333" stroke-width="1" fill="none"/>
<text class="ax" x="45.4" y="244.3" text-anchor="middle">76° E</text>
<text class="ax" x="45.4" y="464.8" text-anchor="middle">76° E</text>
<text class="ax" x="121.4" y="244.3" text-anchor="middle">84° E</text>
<text class="ax" x="121.4" y="464.8" text-anchor="middle">84° E</text>
<text class="ax" x="197.4" y="244.3" text-anchor="middle">92° E</text>
<text class="ax" x="197.4" y="464.8" text-anchor="middle">92° E</text>
<text class="ax" transform="translate(16.3,309.8) rotate(-90)" text-anchor="middle">45° N</text>
<text class="ax" transform="translate(274.6,309.8) rotate(-90)" text-anchor="middle">45° N</text>
<text class="ax" transform="translate(16.3,373.7) rotate(-90)" text-anchor="middle">40° N</text>
<text class="ax" transform="translate(274.6,373.7) rotate(-90)" text-anchor="middle">40° N</text>
<text class="ax" transform="translate(16.3,433.5) rotate(-90)" text-anchor="middle">35° N</text>
<text class="ax" transform="translate(274.6,433.5) rotate(-90)" text-anchor="middle">35° N</text>
<text class="pl" x="28.2" y="272.7" font-weight="bold">c</text>
<text class="nn" x="66.8" y="261.8" text-anchor="middle">N</text>
<path d="M66.8,263.6L61.5,281.6L66.5,275.8Z" fill="#111"/>
<path d="M66.8,263.6L71.7,281.6L66.5,275.8Z" fill="#fff" stroke="#111" stroke-width="0.7" stroke-linejoin="miter"/>
<rect x="92.4" y="444.40" width="34.6" height="2.5" fill="#111"/>
<path d="M127.0,444.55H161.5V446.75H127.0" fill="#fff" stroke="#111" stroke-width="0.45"/>
<text class="sb" x="92.4" y="441.9" text-anchor="middle">0</text>
<text class="sb" x="109.7" y="441.9" text-anchor="middle">125</text>
<text class="sb" x="127.0" y="441.9" text-anchor="middle">250</text>
<text class="sb" x="161.6" y="441.9" text-anchor="middle">500</text>
<text class="sb" x="162.6" y="447.2">km</text>
<rect x="218.1" y="361.7" width="5.3" height="3.2" fill="#2090d2"/>
<text class="lg" x="224.2" y="365.3">0 – 1</text>
<rect x="218.1" y="369.4" width="5.3" height="3.2" fill="#39a6bd"/>
<text class="lg" x="224.2" y="373.0">1 – 1</text>
<rect x="218.1" y="377.2" width="5.3" height="3.2" fill="#80c0a5"/>
<text class="lg" x="224.2" y="380.8">1 – 2</text>
<rect x="218.1" y="384.9" width="5.3" height="3.2" fill="#b6d787"/>
<text class="lg" x="224.2" y="388.5">2 – 3</text>
<rect x="218.1" y="392.7" width="5.3" height="3.2" fill="#e6ee62"/>
<text class="lg" x="224.2" y="396.3">3 – 5</text>
<rect x="218.1" y="400.4" width="5.3" height="3.2" fill="#ffe14c"/>
<text class="lg" x="224.2" y="404.0">5 – 6</text>
<rect x="218.1" y="408.2" width="5.3" height="3.2" fill="#ffae36"/>
<text class="lg" x="224.2" y="411.8">6 – 7</text>
<rect x="218.1" y="415.9" width="5.3" height="3.2" fill="#ff8a26"/>
<text class="lg" x="224.2" y="419.5">7 – 9</text>
<rect x="218.1" y="423.7" width="5.3" height="3.2" fill="#ff5517"/>
<text class="lg" x="224.2" y="427.3">9 – 11</text>
<rect x="218.1" y="431.4" width="5.3" height="3.2" fill="#ff1212"/>
<text class="lg" x="224.2" y="435.0">11 – 13</text>
<circle cx="209.3" cy="443.4" r="1.3" fill="#10d010" stroke="#2a9a2a" stroke-width="0.4"/>
<text class="lg" x="216.6" y="445.4">Weather Stations</text>
<g fill="#12d812" stroke="#25a025" stroke-width="0.4"><circle cx="143.5" cy="267.6" r="1.25"/><circle cx="160.1" cy="272.5" r="1.25"/><circle cx="148.6" cy="272.5" r="1.25"/><circle cx="154.4" cy="281.0" r="1.25"/><circle cx="137.4" cy="285.6" r="1.25"/><circle cx="173.6" cy="283.0" r="1.25"/><circle cx="111.6" cy="286.3" r="1.25"/><circle cx="117.6" cy="297.1" r="1.25"/><circle cx="129.2" cy="301.9" r="1.25"/><circle cx="108.2" cy="307.3" r="1.25"/><circle cx="103.2" cy="310.7" r="1.25"/><circle cx="110.7" cy="314.5" r="1.25"/><circle cx="148.1" cy="320.9" r="1.25"/><circle cx="160.5" cy="324.2" r="1.25"/><circle cx="122.6" cy="335.4" r="1.25"/><circle cx="162.0" cy="331.5" r="1.25"/><circle cx="170.6" cy="336.6" r="1.25"/><circle cx="161.3" cy="345.6" r="1.25"/><circle cx="145.4" cy="347.5" r="1.25"/><circle cx="141.5" cy="351.5" r="1.25"/><circle cx="207.1" cy="328.0" r="1.25"/><circle cx="225.4" cy="326.1" r="1.25"/><circle cx="222.5" cy="332.6" r="1.25"/><circle cx="211.5" cy="338.1" r="1.25"/><circle cx="222.4" cy="354.1" r="1.25"/><circle cx="156.3" cy="366.0" r="1.25"/><circle cx="85.8" cy="358.9" r="1.25"/><circle cx="109.5" cy="358.4" r="1.25"/><circle cx="74.3" cy="367.2" r="1.25"/><circle cx="93.5" cy="367.2" r="1.25"/><circle cx="37.5" cy="377.4" r="1.25"/><circle cx="47.3" cy="377.1" r="1.25"/><circle cx="45.1" cy="380.0" r="1.25"/><circle cx="60.9" cy="386.5" r="1.25"/><circle cx="57.3" cy="392.8" r="1.25"/><circle cx="67.1" cy="402.7" r="1.25"/><circle cx="82.7" cy="408.3" r="1.25"/><circle cx="99.3" cy="411.4" r="1.25"/><circle cx="109.0" cy="409.1" r="1.25"/><circle cx="136.1" cy="396.3" r="1.25"/></g>
<g class="st">
<text x="137.8" y="272.9">Habahe</text>
<text x="154.4" y="270.2">Altay</text>
<text x="138.4" y="278.0">Buerjin</text>
<text x="155.0" y="278.6">Fuhai</text>
<text x="139.0" y="283.5">Hefeng</text>
<text x="169.5" y="280.7">Fuyun</text>
<text x="113.9" y="290.8">Tarbagatay</text>
<text x="119.3" y="294.6">Toli</text>
<text x="130.8" y="299.7">Karamay</text>
<text x="110.0" y="305.5">Alashankou</text>
<text x="105.2" y="311.5">Bole</text>
<text x="112.5" y="317.9">Jinghe</text>
<text x="149.1" y="319.1">Hutubi</text>
<text x="162.3" y="324.9">Urumchi</text>
<text x="120.9" y="333.6">Bayinbuluk</text>
<text x="145.6" y="336.8">Dabancheng</text>
<text x="172.5" y="334.7">Turpan</text>
<text x="162.7" y="343.8">Kumishi</text>
<text x="147.7" y="345.6">Yanqi</text>
<text x="132.0" y="349.6">Kuerle</text>
<text x="204.2" y="326.3">Balikun</text>
<text x="222.5" y="324.1">Naomaohu</text>
<text x="221.4" y="330.8">Yiwu</text>
<text x="209.0" y="336.3">Hami</text>
<text x="201.7" y="352.5">Hongliuhe</text>
<text x="157.7" y="364.0">Tieganlike</text>
<text x="87.5" y="357.1">Aksu</text>
<text x="111.3" y="356.5">Shaya</text>
<text x="75.8" y="365.3">Kalpin</text>
<text x="94.5" y="365.3">Alaer</text>
<text x="39.7" y="375.5">Wuqia</text>
<text x="48.5" y="382.5">Atushi</text>
<text x="30.7" y="385.3">Kashgar</text>
<text x="62.3" y="384.6">Makit</text>
<text x="59.4" y="390.8">Yarkant</text>
<text x="68.3" y="400.6">Pishan</text>
<text x="83.9" y="406.2">Hotan</text>
<text x="101.2" y="408.9">Yutian</text>
<text x="110.2" y="416.2">Minfeng</text>
<text x="137.4" y="394.4">Qiemo</text>
</g>
</g>
<g>
<g clip-path="url(#clipd)">
<path d="M376.5,307.4L375.2,302.3L374.6,297.2L375.0,295.1L376.8,286.0L380.4,282.3L389.1,279.8L397.0,281.5L401.4,283.4L404.4,280.8L406.8,276.9L405.9,267.8L408.6,263.2L415.0,262.3L416.8,255.1L420.4,252.3L425.9,253.2L427.7,260.5L431.3,264.1L433.6,265.6L439.6,267.8L447.0,270.8L450.7,276.0L454.5,281.9L456.7,287.9L455.9,293.9L453.7,299.8L454.5,304.3L458.9,307.3L464.9,308.8L472.3,309.5L481.3,311.0L487.2,314.0L493.2,317.7L497.7,320.7L500.6,325.1L502.1,329.6L503.1,333.8L507.4,338.1L503.8,342.5L500.1,346.1L495.8,350.5L491.0,353.9L488.0,356.5L485.8,359.2L483.6,362.5L480.4,365.2L476.0,367.0L473.8,370.1L472.7,374.5L470.5,379.9L468.4,383.7L463.5,387.0L457.5,388.8L450.9,391.4L448.2,393.2L453.6,396.9L451.8,401.4L456.3,406.0L458.1,411.4L457.2,420.5L450.0,419.6L442.7,418.7L436.3,416.9L430.0,416.9L424.5,417.8L417.2,419.6L410.0,422.3L404.2,424.7L398.4,425.4L392.6,427.6L386.8,426.1L379.5,424.0L373.7,426.9L367.9,429.8L362.1,428.3L356.6,429.8L353.3,431.4L351.1,434.7L349.5,438.5L344.6,439.6L340.2,438.5L335.9,436.3L334.8,431.4L332.6,427.6L327.1,427.1L321.7,424.9L318.4,421.6L314.1,420.5L314.1,416.1L312.6,411.7L309.7,411.7L305.2,409.5L300.0,408.0L301.5,405.8L303.7,401.3L304.4,395.3L301.5,390.9L294.8,390.9L293.3,387.1L291.8,381.9L294.0,377.5L296.3,373.0L303.0,368.5L310.4,366.3L319.3,365.6L322.1,361.1L327.2,361.4L334.5,357.8L341.8,354.1L347.8,351.4L352.9,348.2L356.1,345.7L354.1,343.1L355.4,339.3L358.6,337.4L359.9,334.2L358.0,329.1L356.7,324.0L356.1,318.2L354.8,313.8L351.6,311.2L353.5,309.9L359.3,308.0L365.6,306.7L369.5,305.5Z" fill="#2090d2"/>
<path d="M427.4,251.8L419.1,251.1L415.6,253.8L413.6,261.1L407.1,262.1L404.6,266.6L405.4,276.1L403.4,279.4L401.1,281.4L398.9,280.4L391.1,278.6L387.6,278.6L379.1,281.1L375.4,285.6L373.4,295.4L373.9,305.1L371.6,304.4L368.1,304.4L353.6,308.1L350.4,309.9L350.4,312.6L353.9,315.9L354.9,319.4L355.4,325.9L358.1,333.9L357.4,336.1L353.9,338.6L352.9,341.6L352.9,344.6L353.4,345.4L347.1,349.9L326.6,359.9L320.9,359.9L318.1,364.4L308.9,365.1L301.4,367.6L294.9,372.1L290.6,380.6L290.9,384.6L293.6,392.4L300.4,392.4L302.9,396.4L302.4,400.4L298.9,406.9L298.9,409.6L304.1,411.1L308.1,413.1L310.6,413.1L311.9,410.4L313.9,408.6L316.6,408.1L319.1,409.1L320.6,410.9L321.6,413.6L320.6,419.6L318.9,421.9L317.4,422.6L314.9,422.6L312.9,421.4L312.9,422.1L317.1,423.1L320.4,426.4L325.6,428.6L331.4,429.1L333.6,432.9L334.6,437.9L338.9,440.1L342.9,441.1L346.6,441.1L351.1,440.1L352.9,435.6L354.9,432.9L361.4,430.4L366.4,431.4L369.4,431.4L379.9,426.1L391.1,429.1L394.4,429.1L399.6,426.9L405.9,426.1L418.4,421.1L431.1,418.4L435.4,418.4L442.4,420.4L455.1,422.1L458.6,422.1L459.6,409.9L457.9,404.9L454.1,400.9L455.1,398.6L455.1,395.6L451.9,393.4L458.1,390.6L464.6,388.9L469.6,385.4L472.6,380.4L475.1,372.1L477.1,369.1L484.6,364.6L488.4,359.4L492.9,355.1L497.1,352.4L505.9,343.6L508.9,339.6L508.9,336.9L504.6,332.6L502.4,324.4L498.9,319.1L490.1,313.6L482.9,309.9L474.6,308.4L466.1,307.6L461.1,306.4L456.1,303.1L455.6,299.9L457.4,295.6L458.1,286.4L455.9,280.1L448.6,269.6L435.6,264.6L430.9,261.1L429.1,259.4ZM376.4,363.6L376.4,365.4L375.6,366.9L371.9,371.1L369.4,372.9L363.4,375.4L360.6,375.9L356.1,375.6L353.6,374.4L351.6,371.6L351.6,369.4L353.1,366.1L355.1,364.4L357.1,363.6L375.1,362.6ZM491.6,324.6L494.1,322.9L496.6,322.9L498.9,324.6L499.1,326.9L497.4,328.9L493.9,329.1L491.4,327.1L491.1,325.9Z" fill="#39a6bd" fill-rule="evenodd"/>
<path d="M427.4,251.8L419.1,251.1L415.6,253.8L413.6,261.1L407.1,262.1L404.6,266.6L405.4,276.1L403.4,279.4L401.1,281.4L398.9,280.4L391.1,278.6L387.6,278.6L379.1,281.1L375.4,285.6L373.4,295.4L373.9,305.1L371.6,304.4L368.1,304.4L353.6,308.1L350.4,309.9L350.4,312.6L353.9,315.9L354.9,319.4L355.4,325.9L358.1,333.9L357.4,336.1L353.9,338.6L352.9,341.6L352.9,344.6L353.4,345.4L347.1,349.9L326.6,359.9L320.9,359.9L318.1,364.4L308.9,365.1L308.1,366.4L304.9,366.4L301.4,367.6L294.9,372.1L291.1,379.6L291.6,387.1L292.1,388.9L293.4,390.1L305.4,390.1L306.1,390.9L306.1,404.1L306.9,405.6L308.1,406.1L317.9,405.9L323.6,406.6L324.6,408.4L324.6,413.9L322.9,416.9L323.1,418.6L333.6,424.1L347.9,434.6L351.6,434.6L354.4,433.6L354.9,432.9L357.9,431.4L361.4,430.4L363.9,430.6L369.9,428.4L371.4,426.9L375.1,417.6L376.6,415.9L377.9,415.4L388.6,415.1L389.9,413.4L389.9,409.9L388.6,408.1L379.4,406.9L377.6,405.6L377.4,403.1L379.1,387.1L379.1,384.1L378.6,383.4L377.6,383.4L372.1,386.4L358.1,390.4L355.4,390.4L341.1,387.6L339.6,386.9L331.9,378.4L330.9,378.1L330.1,379.6L330.1,389.9L329.1,391.6L327.9,392.1L314.4,391.9L313.4,390.9L313.4,389.9L314.9,386.6L315.1,374.6L316.6,373.4L327.6,373.4L328.9,372.9L329.9,371.4L332.6,358.4L334.6,356.6L344.1,352.9L346.1,352.6L347.1,353.9L347.4,361.9L348.6,363.4L351.6,363.6L358.6,362.1L376.6,361.4L378.9,361.9L381.4,360.6L381.9,357.4L382.6,356.1L383.4,357.4L383.9,363.6L386.6,369.4L390.1,374.9L395.4,381.6L399.1,383.6L401.4,383.6L403.6,382.1L406.9,372.4L412.1,363.1L412.1,359.9L411.4,356.4L412.1,350.9L411.1,348.6L411.4,347.1L412.6,345.9L414.1,345.4L424.1,344.9L428.6,342.9L430.6,340.9L431.6,341.4L432.6,343.4L434.4,343.4L435.6,341.1L436.6,335.6L439.9,328.1L441.1,326.9L442.6,326.4L447.9,325.9L449.1,327.4L450.6,332.4L450.6,334.9L448.9,340.4L449.1,347.1L448.1,348.4L443.1,350.1L441.4,351.4L440.9,352.4L440.4,363.1L439.4,363.9L418.1,364.1L416.6,365.4L416.4,368.4L418.4,391.1L417.4,393.6L405.1,411.9L404.9,414.9L405.9,419.6L404.6,423.6L406.9,425.4L407.9,425.4L418.4,421.1L431.1,418.4L435.4,418.4L442.4,420.4L455.1,422.1L458.6,422.1L459.6,409.9L457.9,404.9L454.1,400.9L455.1,398.6L455.1,395.6L451.9,393.4L458.1,390.6L464.6,388.9L469.6,385.4L472.6,380.4L475.1,372.1L477.1,369.1L484.6,364.6L488.4,359.4L492.9,355.1L497.1,352.4L505.9,343.6L508.9,339.6L508.9,336.9L504.6,332.6L502.4,324.4L498.9,319.1L490.1,313.6L482.9,309.9L474.6,308.4L466.1,307.6L461.1,306.4L456.1,303.1L455.6,299.9L457.4,295.6L458.1,286.4L455.9,280.1L448.6,269.6L435.6,264.6L430.9,261.1L429.1,259.4ZM499.6,323.4L500.6,325.9L500.6,329.6L493.4,337.4L485.4,343.6L478.1,343.9L477.1,343.1L477.1,341.6L481.1,338.4L484.6,334.6L491.1,323.1L494.1,321.6L496.6,321.6Z" fill="#80c0a5" fill-rule="evenodd"/>
<path d="M348.6,405.1L348.4,407.6L349.4,410.9L356.4,415.4L364.9,417.6L367.4,417.6L370.9,415.1L372.1,413.4L372.1,411.1L371.1,407.6L370.1,406.4L368.6,405.6L356.9,402.1L352.9,402.9ZM339.4,396.4L337.4,396.9L335.4,398.4L334.6,399.9L334.6,401.9L336.9,404.6L340.4,405.4L342.4,404.9L344.1,403.6L345.1,401.9L345.1,399.9L344.4,398.4L342.9,397.1ZM302.4,367.1L294.9,372.1L292.1,377.6L292.9,387.6L293.4,388.6L294.6,389.4L302.6,388.9L311.4,389.1L313.1,387.9L313.9,385.6L314.4,369.1L313.4,367.9L312.1,367.4L307.4,367.6ZM419.1,251.1L415.6,253.8L413.6,261.1L407.1,262.1L404.6,266.6L405.4,276.1L403.4,279.4L401.1,281.4L398.9,280.4L391.1,278.6L387.6,278.6L379.1,281.1L375.6,284.9L373.4,295.4L373.9,305.1L371.6,304.4L368.1,304.4L353.6,308.1L350.4,309.9L350.4,312.6L353.9,315.9L354.9,319.4L355.4,325.9L358.1,334.4L357.4,336.1L353.9,338.6L352.9,341.6L352.9,344.6L353.4,345.4L348.4,349.1L349.1,360.9L349.6,361.6L351.9,361.9L358.4,360.9L378.6,360.1L379.9,359.1L380.4,355.4L381.9,354.1L383.6,354.1L385.1,355.6L385.6,363.4L388.6,369.4L396.4,380.1L399.6,381.6L401.1,381.6L402.6,380.1L404.9,372.6L410.4,362.9L409.6,354.6L410.9,352.1L410.1,349.6L410.1,347.1L410.9,345.9L413.6,344.4L423.9,343.6L427.9,341.9L430.9,338.6L433.9,338.6L437.4,331.9L438.9,327.1L440.4,325.4L446.6,323.9L448.9,324.1L450.6,326.4L452.4,332.1L452.4,335.1L450.6,340.9L450.6,348.4L449.1,349.9L442.9,352.6L442.4,363.6L440.9,365.4L437.1,365.9L418.6,366.1L418.1,368.1L420.1,391.6L418.9,394.6L407.4,411.4L406.6,414.6L407.6,418.4L407.9,422.6L409.1,424.9L418.4,421.1L431.1,418.4L435.4,418.4L442.4,420.4L455.1,422.1L458.6,422.1L459.6,409.9L457.9,404.9L454.1,400.9L455.1,398.6L455.1,395.6L451.9,393.4L458.1,390.6L464.6,388.9L469.6,385.4L472.6,380.4L475.1,372.1L477.1,369.1L484.6,364.6L487.1,360.9L490.9,356.9L497.1,352.4L505.9,343.6L508.9,339.6L508.9,336.9L504.6,332.6L502.4,324.4L499.4,319.6L494.4,316.1L482.9,309.9L474.6,308.4L466.1,307.6L460.4,306.1L456.4,303.4L455.6,299.9L457.4,295.6L458.1,286.4L455.9,280.1L448.9,269.9L435.6,264.6L433.1,263.1L429.1,259.4L427.4,251.8ZM500.9,322.9L502.4,328.1L502.1,330.6L494.6,338.6L488.4,343.6L485.4,345.4L477.4,345.6L475.4,344.1L475.1,342.9L475.9,341.1L480.4,337.6L483.6,334.1L488.9,323.9L490.6,321.9L493.4,320.6L496.4,320.4L499.6,321.6Z" fill="#b6d787" fill-rule="evenodd"/>
<path d="M294.9,372.1L292.6,376.6L293.6,387.1L294.6,388.4L310.4,388.1L312.6,386.9L313.4,370.4L312.4,368.9L304.6,367.6L301.4,367.6ZM504.9,332.9L499.9,339.1L494.9,343.4L487.1,345.9L482.4,348.1L477.4,348.4L471.4,350.6L463.9,369.6L460.9,381.4L457.4,385.1L453.4,386.6L450.1,389.9L445.6,391.1L444.1,392.1L443.9,395.1L445.1,402.9L443.9,405.6L439.1,412.9L437.1,414.9L433.1,416.1L430.6,415.9L429.9,414.6L429.6,410.6L428.9,409.9L426.6,414.9L426.9,417.1L428.1,418.6L435.4,418.4L442.4,420.4L453.4,421.9L457.9,421.9L458.6,421.4L459.6,409.9L457.9,404.9L454.1,400.9L455.1,398.6L455.1,395.6L451.9,393.4L458.1,390.6L464.6,388.9L470.1,384.9L472.6,380.4L475.1,372.1L477.1,369.1L484.6,364.6L488.4,359.4L492.9,355.1L497.1,352.4L505.9,343.6L508.9,339.6L508.9,336.9ZM498.4,318.9L490.1,313.6L482.9,309.9L474.6,308.4L466.1,307.6L460.4,306.1L456.4,303.4L455.6,299.9L457.4,295.6L458.1,286.4L455.9,280.1L448.9,269.9L435.6,264.6L433.1,263.1L429.1,259.4L427.4,251.8L419.1,251.1L415.6,253.8L413.6,261.1L407.1,262.1L404.6,266.6L405.4,276.1L403.4,279.4L401.1,281.4L398.9,280.4L391.1,278.6L387.6,278.6L379.1,281.1L375.6,284.9L373.4,295.4L373.9,305.1L371.6,304.4L368.1,304.4L353.6,308.1L350.4,309.9L350.4,312.6L353.9,315.9L354.9,319.4L355.4,325.9L358.1,333.9L357.4,336.1L354.1,338.1L352.9,341.6L353.6,344.4L353.4,352.6L353.9,353.9L355.4,354.6L378.6,353.9L381.9,352.6L383.9,352.6L386.6,353.6L396.9,353.6L408.1,352.9L409.4,351.6L409.4,346.6L411.4,344.4L414.4,343.4L418.1,343.4L424.9,342.1L427.6,340.6L430.1,338.1L433.1,337.1L434.6,335.9L437.9,328.4L438.4,321.6L438.9,320.9L452.1,319.1L454.6,319.9L456.4,322.6L456.4,341.1L457.1,344.9L459.4,345.4L462.6,344.1L465.9,344.1L469.6,345.4L471.4,345.4L472.9,342.6L476.4,339.4L479.1,337.6L482.9,333.9L484.4,331.6L487.4,324.9L487.6,320.1L488.4,319.1L493.9,318.6Z" fill="#e6ee62" fill-rule="evenodd"/>
<path d="M456.9,403.9L453.1,404.4L452.1,404.9L451.4,406.1L450.6,415.9L450.6,420.9L451.1,421.4L457.1,420.9L458.1,419.9L458.6,406.9L457.9,404.9ZM294.9,372.1L293.4,375.1L293.4,377.6L294.6,386.4L295.1,387.1L304.6,387.4L310.4,386.9L311.6,386.1L312.6,379.6L312.6,372.9L311.6,369.9L305.9,368.4L301.6,368.1L299.9,368.6ZM497.9,347.9L493.9,345.9L487.9,346.6L483.6,348.9L480.9,352.9L478.1,352.6L476.9,353.6L467.4,369.1L464.6,379.4L462.4,384.1L459.6,387.6L459.1,390.4L464.6,388.9L470.1,384.9L472.6,380.4L475.6,371.1L477.6,368.6L481.9,366.6L484.6,364.6L487.1,360.9L490.9,356.9L497.1,352.4L499.4,350.1ZM482.6,310.4L479.4,309.6L476.9,312.9L472.6,313.9L469.4,315.4L466.9,317.1L462.4,322.4L460.4,327.4L459.9,331.9L461.4,336.9L464.6,340.9L470.4,341.4L474.1,339.9L479.6,336.1L483.9,330.9L486.1,325.4L486.1,321.1L485.4,317.6L483.6,314.4L483.6,311.9ZM448.9,269.9L435.6,264.6L433.1,263.1L429.1,259.4L427.4,251.8L419.1,251.1L415.6,253.8L413.6,261.1L407.1,262.1L404.6,266.6L405.4,276.1L403.4,279.4L401.1,281.4L398.9,280.4L391.1,278.6L387.6,278.6L379.1,281.1L375.4,285.6L373.4,295.4L373.4,299.9L374.1,304.9L368.1,304.4L353.6,308.1L350.4,309.9L350.4,312.6L353.9,315.9L354.9,319.4L355.4,325.9L358.1,333.9L357.4,336.1L354.1,338.1L354.9,340.6L356.4,341.6L368.1,341.6L375.6,343.9L377.4,345.1L378.4,348.6L379.9,349.9L406.9,349.9L408.1,348.6L409.1,345.1L410.9,343.4L413.6,342.4L417.6,342.1L422.9,340.9L433.6,335.9L435.6,332.9L437.4,327.6L437.4,323.6L436.6,319.4L433.9,314.1L434.6,304.4L435.9,300.6L435.9,273.9L436.4,272.6L438.1,271.6L445.1,271.6L446.9,272.6L447.4,273.9L447.4,300.1L447.9,301.4L449.4,302.1L455.9,302.1L455.6,299.9L457.6,294.1L458.1,286.4L455.9,280.1Z" fill="#ffe14c" fill-rule="evenodd"/>
<path d="M295.4,371.6L294.4,374.4L294.4,378.6L295.9,382.9L297.9,384.9L300.6,386.1L304.1,386.4L307.6,385.6L310.1,383.9L311.9,379.4L311.9,374.1L311.4,372.1L310.1,370.4L305.1,368.9L299.1,369.1ZM496.1,348.1L493.1,346.9L490.4,346.9L486.9,347.9L483.9,350.1L482.6,356.1L478.6,361.4L474.4,365.1L474.6,366.4L476.1,367.9L476.9,369.6L477.6,368.6L480.9,367.1L481.1,365.6L487.9,358.6L489.9,357.9L498.4,351.1L497.9,349.9ZM481.4,316.4L478.9,315.4L476.1,315.4L473.1,316.1L469.9,317.9L466.1,321.6L463.6,326.6L463.1,330.9L464.6,335.1L466.6,337.1L470.4,338.4L474.6,337.6L478.6,335.4L482.1,331.6L484.6,326.4L484.9,322.1L483.6,318.6ZM425.6,253.1L416.9,252.8L415.6,253.8L413.9,260.9L408.1,261.9L407.9,263.9L405.9,268.4L406.1,273.9L405.1,274.6L405.4,276.1L403.4,279.4L401.1,281.4L398.9,280.4L391.1,278.6L387.6,278.6L379.6,280.9L375.6,284.9L374.6,289.4L375.9,299.6L374.9,302.4L373.9,303.1L373.9,305.1L369.9,304.4L366.9,305.9L361.4,306.9L357.9,306.9L352.9,308.4L351.6,309.4L351.6,313.6L353.9,315.9L354.9,319.4L355.4,324.6L369.1,329.4L371.9,330.9L378.1,338.6L378.9,340.6L379.6,346.4L380.9,348.1L406.1,348.1L407.4,346.4L408.1,343.4L408.1,338.9L409.6,336.1L411.4,335.4L419.4,335.4L422.4,334.4L425.1,336.6L428.1,337.4L433.4,335.1L435.6,331.4L436.6,327.9L436.6,324.1L434.9,318.6L431.9,315.1L429.1,314.4L427.6,313.1L424.1,304.1L419.4,296.6L417.4,295.6L418.1,289.9L417.9,283.1L415.6,278.4L416.1,277.6L419.4,277.4L421.1,276.4L426.6,263.4L426.9,254.8Z" fill="#ffae36" fill-rule="evenodd"/>
<path d="M300.4,369.9L297.6,371.4L296.4,373.1L295.6,375.6L296.1,379.9L297.6,382.4L299.9,384.1L302.1,384.9L306.4,384.4L309.4,382.1L310.6,379.9L310.6,373.6L309.6,371.9L307.6,370.4L304.6,369.6ZM496.6,350.1L494.9,348.6L492.9,347.9L489.9,347.9L485.9,349.6L484.6,351.4L484.9,354.9L486.6,356.6L491.4,356.6L497.1,352.4ZM391.6,320.9L387.6,322.4L383.9,325.9L382.1,329.6L381.6,335.1L382.4,338.4L385.9,343.6L389.9,345.9L394.9,346.1L398.6,344.6L401.6,341.6L403.9,336.6L404.1,332.4L403.4,328.9L401.9,325.9L399.6,323.4L396.1,321.4ZM480.6,318.4L478.9,317.6L475.6,317.6L472.6,318.9L469.1,321.9L467.4,324.6L466.4,328.1L466.9,331.6L468.6,334.1L470.6,335.1L474.1,335.1L478.1,333.1L480.9,330.4L482.9,326.6L483.1,322.1L482.4,320.1ZM427.1,316.1L425.9,316.6L423.9,318.6L422.6,320.9L421.6,324.6L421.6,328.1L422.6,331.4L425.6,334.9L427.4,335.9L429.6,335.9L432.4,334.6L433.9,332.9L435.6,328.1L435.6,324.4L434.4,320.1L431.9,317.1L430.4,316.4ZM353.1,309.6L352.9,314.6L353.9,315.9L354.6,318.4L355.1,322.4L357.6,322.9L364.1,322.9L365.4,322.4L366.1,320.9L366.1,310.1L365.6,308.9L364.9,308.4L357.9,308.4ZM411.1,265.4L409.6,265.4L408.4,266.6L407.6,268.6L407.6,271.6L408.4,274.1L407.9,275.6L404.9,276.6L403.4,279.4L401.1,281.4L398.9,280.4L391.1,278.6L387.6,278.6L379.6,280.9L377.4,282.9L376.1,284.6L375.9,290.1L377.6,299.1L377.6,302.4L378.4,303.4L384.9,306.4L394.9,306.4L407.6,301.1L414.1,295.9L416.1,292.6L416.4,284.6L415.9,282.6L413.4,278.9L412.1,275.9L413.1,269.1L412.1,266.4ZM417.1,254.8L416.1,256.6L416.1,261.6L416.6,262.9L418.1,263.6L423.9,263.4L424.9,261.9L424.9,255.1L424.1,254.6Z" fill="#ff8a26" fill-rule="evenodd"/>
<path d="M303.4,371.6L302.1,372.1L300.4,373.9L299.9,377.6L300.4,378.9L302.1,380.6L305.4,381.1L307.4,380.1L308.4,378.9L308.9,375.4L306.9,372.4L305.1,371.6ZM488.1,350.9L487.9,353.1L489.6,354.6L492.9,354.6L494.9,352.9L494.6,350.9L492.9,349.6L489.9,349.6ZM391.1,324.4L388.4,325.9L386.1,329.1L385.4,332.1L385.6,335.6L386.9,338.6L388.6,340.6L391.1,341.9L394.1,341.9L396.6,340.6L399.1,337.1L399.9,334.1L399.6,330.6L398.4,327.6L396.6,325.6L394.1,324.4ZM479.4,320.1L477.9,319.6L475.4,319.9L473.4,320.9L470.9,323.4L469.4,327.9L469.9,330.1L470.9,331.4L472.6,332.1L474.4,332.1L476.4,331.4L479.4,328.9L481.1,325.4L481.1,322.6ZM429.4,319.4L426.9,320.9L425.4,325.1L426.1,330.6L428.4,333.1L430.4,333.1L431.9,331.9L433.4,327.4L432.9,322.9L431.9,320.9ZM412.4,281.1L411.1,279.6L409.9,279.1L403.6,279.4L401.1,281.4L396.9,279.9L381.4,280.4L379.6,280.9L378.1,282.6L377.1,288.4L378.6,296.1L379.9,298.4L383.4,301.9L386.6,303.1L393.9,303.4L402.6,300.1L410.1,296.1L411.6,294.6L413.9,288.1L413.9,285.1Z" fill="#ff5517" fill-rule="evenodd"/>
<path d="M477.6,322.4L475.4,322.4L473.1,324.1L472.4,326.1L473.1,328.1L475.6,328.6L477.4,327.6L478.6,325.6L478.6,323.4ZM410.4,284.6L409.6,283.1L407.6,281.4L405.9,281.4L400.6,284.4L382.6,282.4L381.9,282.6L380.9,284.1L380.9,288.6L383.4,295.1L387.1,299.1L388.9,299.9L392.6,299.6L396.4,298.6L407.9,292.4L409.1,290.9L409.9,288.6Z" fill="#ff1212" fill-rule="evenodd"/>
</g>
<rect x="288.6" y="248.4" width="243.4" height="205.3" fill="none" stroke="#6a6a6a" stroke-width="1.15"/>
<path d="M314.0,246.1V248.4M314.0,453.7V456.0M390.0,246.1V248.4M390.0,453.7V456.0M466.0,246.1V248.4M466.0,453.7V456.0M286.3,309.4H288.6M532.0,309.4H534.3M286.3,373.5H288.6M532.0,373.5H534.3M286.3,433.2H288.6M532.0,433.2H534.3" stroke="#333" stroke-width="1" fill="none"/>
<text class="ax" x="314.0" y="244.3" text-anchor="middle">76° E</text>
<text class="ax" x="314.0" y="464.8" text-anchor="middle">76° E</text>
<text class="ax" x="390.0" y="244.3" text-anchor="middle">84° E</text>
<text class="ax" x="390.0" y="464.8" text-anchor="middle">84° E</text>
<text class="ax" x="466.0" y="244.3" text-anchor="middle">92° E</text>
<text class="ax" x="466.0" y="464.8" text-anchor="middle">92° E</text>
<text class="ax" transform="translate(283.6,309.8) rotate(-90)" text-anchor="middle">45° N</text>
<text class="ax" transform="translate(543.2,309.8) rotate(-90)" text-anchor="middle">45° N</text>
<text class="ax" transform="translate(283.6,373.7) rotate(-90)" text-anchor="middle">40° N</text>
<text class="ax" transform="translate(543.2,373.7) rotate(-90)" text-anchor="middle">40° N</text>
<text class="ax" transform="translate(283.6,433.5) rotate(-90)" text-anchor="middle">35° N</text>
<text class="ax" transform="translate(543.2,433.5) rotate(-90)" text-anchor="middle">35° N</text>
<text class="pl" x="296.8" y="272.7">d</text>
<text class="nn" x="335.4" y="261.8" text-anchor="middle">N</text>
<path d="M335.4,263.6L330.1,281.6L335.1,275.8Z" fill="#111"/>
<path d="M335.4,263.6L340.3,281.6L335.1,275.8Z" fill="#fff" stroke="#111" stroke-width="0.7" stroke-linejoin="miter"/>
<rect x="361.0" y="444.40" width="34.6" height="2.5" fill="#111"/>
<path d="M395.6,444.55H430.1V446.75H395.6" fill="#fff" stroke="#111" stroke-width="0.45"/>
<text class="sb" x="361.0" y="441.9" text-anchor="middle">0</text>
<text class="sb" x="378.3" y="441.9" text-anchor="middle">125</text>
<text class="sb" x="395.6" y="441.9" text-anchor="middle">250</text>
<text class="sb" x="430.2" y="441.9" text-anchor="middle">500</text>
<text class="sb" x="431.2" y="447.2">km</text>
<rect x="488.6" y="360.9" width="6.4" height="3.2" fill="#2090d2"/>
<text class="lg" x="495.8" y="364.5">0 – 1</text>
<rect x="488.6" y="368.6" width="6.4" height="3.2" fill="#39a6bd"/>
<text class="lg" x="495.8" y="372.2">1 – 2</text>
<rect x="488.6" y="376.4" width="6.4" height="3.2" fill="#80c0a5"/>
<text class="lg" x="495.8" y="380.0">2 – 3</text>
<rect x="488.6" y="384.1" width="6.4" height="3.2" fill="#b6d787"/>
<text class="lg" x="495.8" y="387.8">3 – 4</text>
<rect x="488.6" y="391.9" width="6.4" height="3.2" fill="#e6ee62"/>
<text class="lg" x="495.8" y="395.5">4 – 5</text>
<rect x="488.6" y="399.6" width="6.4" height="3.2" fill="#ffe14c"/>
<text class="lg" x="495.8" y="403.2">5 – 7</text>
<rect x="488.6" y="407.4" width="6.4" height="3.2" fill="#ffae36"/>
<text class="lg" x="495.8" y="411.0">7 – 8</text>
<rect x="488.6" y="415.1" width="6.4" height="3.2" fill="#ff8a26"/>
<text class="lg" x="495.8" y="418.8">8 – 9</text>
<rect x="488.6" y="422.9" width="6.4" height="3.2" fill="#ff5517"/>
<text class="lg" x="495.8" y="426.5">9 – 10</text>
<rect x="488.6" y="430.6" width="6.4" height="3.2" fill="#ff1212"/>
<text class="lg" x="495.8" y="434.2">10 – 11</text>
<circle cx="477.9" cy="443.4" r="1.3" fill="#10d010" stroke="#2a9a2a" stroke-width="0.4"/>
<text class="lg" x="485.2" y="445.4">Weather Stations</text>
<g fill="#12d812" stroke="#25a025" stroke-width="0.4"><circle cx="412.1" cy="267.6" r="1.25"/><circle cx="428.7" cy="272.5" r="1.25"/><circle cx="417.2" cy="272.5" r="1.25"/><circle cx="423.0" cy="281.0" r="1.25"/><circle cx="406.0" cy="285.6" r="1.25"/><circle cx="442.2" cy="283.0" r="1.25"/><circle cx="380.2" cy="286.3" r="1.25"/><circle cx="386.2" cy="297.1" r="1.25"/><circle cx="397.8" cy="301.9" r="1.25"/><circle cx="376.8" cy="307.3" r="1.25"/><circle cx="371.8" cy="310.7" r="1.25"/><circle cx="379.3" cy="314.5" r="1.25"/><circle cx="416.7" cy="320.9" r="1.25"/><circle cx="429.1" cy="324.2" r="1.25"/><circle cx="391.2" cy="335.4" r="1.25"/><circle cx="430.6" cy="331.5" r="1.25"/><circle cx="439.2" cy="336.6" r="1.25"/><circle cx="429.9" cy="345.6" r="1.25"/><circle cx="414.0" cy="347.5" r="1.25"/><circle cx="410.1" cy="351.5" r="1.25"/><circle cx="475.7" cy="328.0" r="1.25"/><circle cx="494.0" cy="326.1" r="1.25"/><circle cx="491.1" cy="332.6" r="1.25"/><circle cx="480.1" cy="338.1" r="1.25"/><circle cx="491.0" cy="354.1" r="1.25"/><circle cx="424.9" cy="366.0" r="1.25"/><circle cx="354.4" cy="358.9" r="1.25"/><circle cx="378.1" cy="358.4" r="1.25"/><circle cx="342.9" cy="367.2" r="1.25"/><circle cx="362.1" cy="367.2" r="1.25"/><circle cx="306.1" cy="377.4" r="1.25"/><circle cx="315.9" cy="377.1" r="1.25"/><circle cx="313.7" cy="380.0" r="1.25"/><circle cx="329.5" cy="386.5" r="1.25"/><circle cx="325.9" cy="392.8" r="1.25"/><circle cx="335.7" cy="402.7" r="1.25"/><circle cx="351.3" cy="408.3" r="1.25"/><circle cx="367.9" cy="411.4" r="1.25"/><circle cx="377.6" cy="409.1" r="1.25"/><circle cx="404.7" cy="396.3" r="1.25"/></g>
<g class="st">
<text x="406.4" y="272.9">Habahe</text>
<text x="423.0" y="270.2">Altay</text>
<text x="407.0" y="278.0">Buerjin</text>
<text x="423.6" y="278.6">Fuhai</text>
<text x="407.6" y="283.5">Hefeng</text>
<text x="438.1" y="280.7">Fuyun</text>
<text x="382.5" y="290.8">Tarbagatay</text>
<text x="387.9" y="294.6">Toli</text>
<text x="399.4" y="299.7">Karamay</text>
<text x="378.6" y="305.5">Alashankou</text>
<text x="373.8" y="311.5">Bole</text>
<text x="381.1" y="317.9">Jinghe</text>
<text x="417.7" y="319.1">Hutubi</text>
<text x="430.9" y="324.9">Urumchi</text>
<text x="389.5" y="333.6">Bayinbuluk</text>
<text x="414.2" y="336.8">Dabancheng</text>
<text x="441.1" y="334.7">Turpan</text>
<text x="431.3" y="343.8">Kumishi</text>
<text x="416.3" y="345.6">Yanqi</text>
<text x="400.6" y="349.6">Kuerle</text>
<text x="472.8" y="326.3">Balikun</text>
<text x="491.1" y="324.1">Naomaohu</text>
<text x="490.0" y="330.8">Yiwu</text>
<text x="477.6" y="336.3">Hami</text>
<text x="470.3" y="352.5">Hongliuhe</text>
<text x="426.3" y="364.0">Tieganlike</text>
<text x="356.1" y="357.1">Aksu</text>
<text x="379.9" y="356.5">Shaya</text>
<text x="344.4" y="365.3">Kalpin</text>
<text x="363.1" y="365.3">Alaer</text>
<text x="308.3" y="375.5">Wuqia</text>
<text x="317.1" y="382.5">Atushi</text>
<text x="299.3" y="385.3">Kashgar</text>
<text x="330.9" y="384.6">Makit</text>
<text x="328.0" y="390.8">Yarkant</text>
<text x="336.9" y="400.6">Pishan</text>
<text x="352.5" y="406.2">Hotan</text>
<text x="369.8" y="408.9">Yutian</text>
<text x="378.8" y="416.2">Minfeng</text>
<text x="406.0" y="394.4">Qiemo</text>
</g>
</g>
</svg></body></html>
